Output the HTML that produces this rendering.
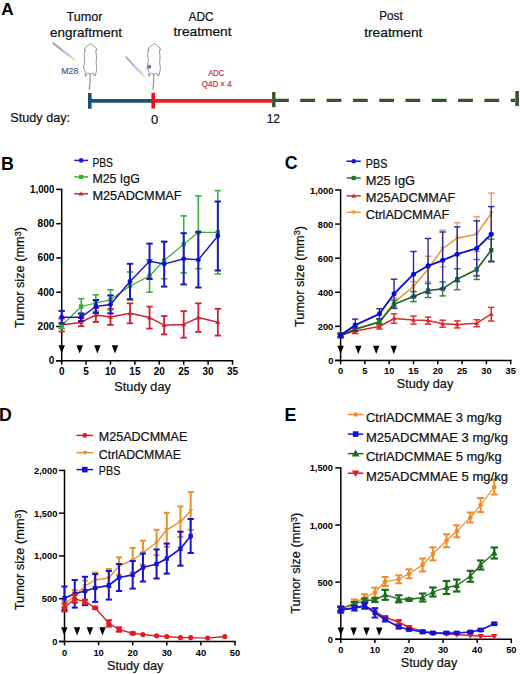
<!DOCTYPE html><html><head><meta charset="utf-8"><style>html,body{margin:0;padding:0;background:#fff;}svg{display:block;}</style></head><body>
<svg width="520" height="674" viewBox="0 0 520 674" font-family='"Liberation Sans", sans-serif'>
<rect width="520" height="674" fill="#fff"/>
<text x="1.3" y="14.8" font-size="17.2" font-weight="bold" text-anchor="start" fill="#000" textLength="12.4" lengthAdjust="spacingAndGlyphs">A</text>
<text x="84.5" y="21.2" font-size="13" text-anchor="middle" fill="#111" textLength="36" lengthAdjust="spacingAndGlyphs" stroke="#111" stroke-width="0.22">Tumor</text>
<text x="86" y="36.5" font-size="13" text-anchor="middle" fill="#111" textLength="72" lengthAdjust="spacingAndGlyphs" stroke="#111" stroke-width="0.22">engraftment</text>
<text x="201" y="20.5" font-size="13" text-anchor="middle" fill="#111" textLength="25" lengthAdjust="spacingAndGlyphs" stroke="#111" stroke-width="0.22">ADC</text>
<text x="202.5" y="36" font-size="13" text-anchor="middle" fill="#111" textLength="58" lengthAdjust="spacingAndGlyphs" stroke="#111" stroke-width="0.22">treatment</text>
<text x="391" y="20.2" font-size="13" text-anchor="middle" fill="#111" textLength="23.5" lengthAdjust="spacingAndGlyphs" stroke="#111" stroke-width="0.22">Post</text>
<text x="393.3" y="36.5" font-size="13" text-anchor="middle" fill="#111" textLength="58.3" lengthAdjust="spacingAndGlyphs" stroke="#111" stroke-width="0.22">treatment</text>
<text x="216.3" y="75.8" font-size="8.4" text-anchor="middle" fill="#c4303f" textLength="16.0" lengthAdjust="spacingAndGlyphs" stroke="#c4303f" stroke-width="0.2">ADC</text>
<text x="216.7" y="87.4" font-size="8.8" text-anchor="middle" fill="#c4303f" textLength="29.8" lengthAdjust="spacingAndGlyphs" stroke="#c4303f" stroke-width="0.2">Q4D × 4</text>
<text x="69.8" y="74.2" font-size="8.6" text-anchor="middle" fill="#4a6890" textLength="17.0" lengthAdjust="spacingAndGlyphs" stroke="#4a6890" stroke-width="0.2">M28</text>
<text x="10.3" y="121.6" font-size="13" text-anchor="start" fill="#111" textLength="59.8" lengthAdjust="spacingAndGlyphs" stroke="#111" stroke-width="0.22">Study day:</text>
<text x="154.5" y="123.5" font-size="13" text-anchor="middle" fill="#111" stroke="#111" stroke-width="0.22">0</text>
<text x="273.3" y="122.5" font-size="13" text-anchor="middle" fill="#111" textLength="13.3" lengthAdjust="spacingAndGlyphs" stroke="#111" stroke-width="0.22">12</text>
<line x1="90.00" y1="100.80" x2="153.00" y2="100.80" stroke="#1f4e79" stroke-width="3.8"/>
<line x1="89.80" y1="93.00" x2="89.80" y2="108.80" stroke="#1f4e79" stroke-width="3.6"/>
<line x1="153.00" y1="100.80" x2="272.00" y2="100.80" stroke="#ee1c25" stroke-width="3.8"/>
<line x1="153.20" y1="92.70" x2="153.20" y2="108.60" stroke="#e8141c" stroke-width="3.6"/>
<line x1="274" y1="100.3" x2="515" y2="100.3" stroke="#375623" stroke-width="3.2" stroke-dasharray="14.8 11.5"/>
<line x1="273.80" y1="92.00" x2="273.80" y2="107.20" stroke="#375623" stroke-width="3.4"/>
<line x1="517.10" y1="91.00" x2="517.10" y2="106.00" stroke="#375623" stroke-width="3.6"/>
<path d="M90.80,43.50 L92.40,44.80 L93.70,46.40 L95.30,47.00 L96.60,48.40 L96.40,50.40 L95.70,51.60 L96.20,54.00 L96.50,58.00 L96.00,62.00 L96.60,66.00 L96.70,69.50 L96.10,72.00 L95.60,74.40 L94.80,76.00 L93.90,74.60 L93.20,73.20 L91.80,73.60 L90.40,74.00 L89.00,73.60 L87.60,73.00 L86.60,74.60 L85.60,76.30 L85.10,74.20 L85.50,72.00 L84.40,70.00 L83.50,67.00 L84.30,64.00 L84.80,61.00 L84.30,57.00 L84.20,54.00 L84.80,51.20 L84.50,49.20 L85.40,47.50 L87.00,46.40 L88.80,45.00Z" fill="#fff" stroke="#8c8c8c" stroke-width="0.9" stroke-linejoin="round"/>
<path d="M90.20,73.9 Q90.40,81 89.30,89.6" fill="none" stroke="#8c8c8c" stroke-width="1.1"/>
<circle cx="84.90" cy="50.5" r="0.9" fill="#9a9a9a"/>
<circle cx="96.20" cy="50.2" r="0.9" fill="#9a9a9a"/>
<circle cx="85.70" cy="75.2" r="0.9" fill="#9a9a9a"/>
<circle cx="94.70" cy="75.2" r="0.9" fill="#9a9a9a"/>
<path d="M154.40,43.50 L156.00,44.80 L157.30,46.40 L158.90,47.00 L160.20,48.40 L160.00,50.40 L159.30,51.60 L159.80,54.00 L160.10,58.00 L159.60,62.00 L160.20,66.00 L160.30,69.50 L159.70,72.00 L159.20,74.40 L158.40,76.00 L157.50,74.60 L156.80,73.20 L155.40,73.60 L154.00,74.00 L152.60,73.60 L151.20,73.00 L150.20,74.60 L149.20,76.30 L148.70,74.20 L149.10,72.00 L148.00,70.00 L147.10,67.00 L147.90,64.00 L148.40,61.00 L147.90,57.00 L147.80,54.00 L148.40,51.20 L148.10,49.20 L149.00,47.50 L150.60,46.40 L152.40,45.00Z" fill="#fff" stroke="#8c8c8c" stroke-width="0.9" stroke-linejoin="round"/>
<path d="M153.80,73.9 Q154.00,81 152.90,89.6" fill="none" stroke="#8c8c8c" stroke-width="1.1"/>
<circle cx="148.50" cy="50.5" r="0.9" fill="#9a9a9a"/>
<circle cx="159.80" cy="50.2" r="0.9" fill="#9a9a9a"/>
<circle cx="149.30" cy="75.2" r="0.9" fill="#9a9a9a"/>
<circle cx="158.30" cy="75.2" r="0.9" fill="#9a9a9a"/>
<circle cx="149.2" cy="66.7" r="2.0" fill="#5a7cbc"/>
<line x1="52.7" y1="42.7" x2="62.8" y2="50.8" stroke="#a0a0a0" stroke-width="1.8"/>
<line x1="62.8" y1="50.8" x2="70.2" y2="56.4" stroke="#b4c8e0" stroke-width="2.5"/>
<line x1="70.2" y1="56.4" x2="74.4" y2="59.6" stroke="#e8d890" stroke-width="2.1"/>
<line x1="75" y1="60.3" x2="79.5" y2="64" stroke="#ece6d4" stroke-width="0.7"/>
<line x1="125.8" y1="56.5" x2="134.2" y2="66.2" stroke="#a4a4a4" stroke-width="1.7"/>
<line x1="134.2" y1="66.2" x2="141.5" y2="73.1" stroke="#d2c2e6" stroke-width="2.4"/>
<line x1="141.5" y1="73.1" x2="143.8" y2="76.5" stroke="#f2de8a" stroke-width="2.1"/>
<line x1="143.8" y1="76.5" x2="152" y2="86" stroke="#f6d8d8" stroke-width="0.7"/>
<text x="0.95" y="169.6" font-size="17.8" font-weight="bold" text-anchor="start" fill="#000">B</text>
<line x1="61.70" y1="188.65" x2="61.70" y2="361.55" stroke="#000" stroke-width="1.5"/>
<line x1="56.20" y1="360.80" x2="61.70" y2="360.80" stroke="#000" stroke-width="1.5"/>
<text x="54.3" y="364.3" font-size="10" font-weight="bold" text-anchor="end" fill="#000">0</text>
<line x1="56.20" y1="326.52" x2="61.70" y2="326.52" stroke="#000" stroke-width="1.5"/>
<text x="54.3" y="330.02" font-size="10" font-weight="bold" text-anchor="end" fill="#000">200</text>
<line x1="56.20" y1="292.24" x2="61.70" y2="292.24" stroke="#000" stroke-width="1.5"/>
<text x="54.3" y="295.74" font-size="10" font-weight="bold" text-anchor="end" fill="#000">400</text>
<line x1="56.20" y1="257.96" x2="61.70" y2="257.96" stroke="#000" stroke-width="1.5"/>
<text x="54.3" y="261.46000000000004" font-size="10" font-weight="bold" text-anchor="end" fill="#000">600</text>
<line x1="56.20" y1="223.68" x2="61.70" y2="223.68" stroke="#000" stroke-width="1.5"/>
<text x="54.3" y="227.18" font-size="10" font-weight="bold" text-anchor="end" fill="#000">800</text>
<line x1="56.20" y1="189.40" x2="61.70" y2="189.40" stroke="#000" stroke-width="1.5"/>
<text x="54.3" y="192.9" font-size="10" font-weight="bold" text-anchor="end" fill="#000" textLength="24.2" lengthAdjust="spacingAndGlyphs">1,000</text>
<line x1="56.20" y1="360.80" x2="233.25" y2="360.80" stroke="#000" stroke-width="1.5"/>
<line x1="61.70" y1="360.80" x2="61.70" y2="364.70" stroke="#000" stroke-width="1.5"/>
<text x="61.7" y="374.7" font-size="10" font-weight="bold" text-anchor="middle" fill="#000">0</text>
<line x1="86.10" y1="360.80" x2="86.10" y2="364.70" stroke="#000" stroke-width="1.5"/>
<text x="86.1" y="374.7" font-size="10" font-weight="bold" text-anchor="middle" fill="#000">5</text>
<line x1="110.50" y1="360.80" x2="110.50" y2="364.70" stroke="#000" stroke-width="1.5"/>
<text x="110.5" y="374.7" font-size="10" font-weight="bold" text-anchor="middle" fill="#000">10</text>
<line x1="134.90" y1="360.80" x2="134.90" y2="364.70" stroke="#000" stroke-width="1.5"/>
<text x="134.9" y="374.7" font-size="10" font-weight="bold" text-anchor="middle" fill="#000">15</text>
<line x1="159.30" y1="360.80" x2="159.30" y2="364.70" stroke="#000" stroke-width="1.5"/>
<text x="159.3" y="374.7" font-size="10" font-weight="bold" text-anchor="middle" fill="#000">20</text>
<line x1="183.70" y1="360.80" x2="183.70" y2="364.70" stroke="#000" stroke-width="1.5"/>
<text x="183.7" y="374.7" font-size="10" font-weight="bold" text-anchor="middle" fill="#000">25</text>
<line x1="208.10" y1="360.80" x2="208.10" y2="364.70" stroke="#000" stroke-width="1.5"/>
<text x="208.10000000000002" y="374.7" font-size="10" font-weight="bold" text-anchor="middle" fill="#000">30</text>
<line x1="232.50" y1="360.80" x2="232.50" y2="364.70" stroke="#000" stroke-width="1.5"/>
<text x="232.5" y="374.7" font-size="10" font-weight="bold" text-anchor="middle" fill="#000">35</text>
<text transform="translate(24.3,277.5) rotate(-90)" x="0" y="0" font-size="12.6" text-anchor="middle" fill="#111" stroke="#111" stroke-width="0.22" textLength="101" lengthAdjust="spacingAndGlyphs">Tumor size (mm<tspan font-size="8.9" dy="-3.4">3</tspan><tspan dy="3.4">)</tspan></text>
<text x="142.6" y="390.8" font-size="12.7" text-anchor="middle" fill="#111" textLength="56.5" lengthAdjust="spacingAndGlyphs" stroke="#111" stroke-width="0.22">Study day</text>
<line x1="61.70" y1="318.50" x2="61.70" y2="331.50" stroke="#cc2236" stroke-width="1.8"/>
<line x1="58.50" y1="318.50" x2="64.90" y2="318.50" stroke="#cc2236" stroke-width="1.8"/>
<line x1="58.50" y1="331.50" x2="64.90" y2="331.50" stroke="#cc2236" stroke-width="1.8"/>
<line x1="81.22" y1="318.20" x2="81.22" y2="326.20" stroke="#cc2236" stroke-width="1.8"/>
<line x1="78.02" y1="318.20" x2="84.42" y2="318.20" stroke="#cc2236" stroke-width="1.8"/>
<line x1="78.02" y1="326.20" x2="84.42" y2="326.20" stroke="#cc2236" stroke-width="1.8"/>
<line x1="95.86" y1="308.00" x2="95.86" y2="322.00" stroke="#cc2236" stroke-width="1.8"/>
<line x1="92.66" y1="308.00" x2="99.06" y2="308.00" stroke="#cc2236" stroke-width="1.8"/>
<line x1="92.66" y1="322.00" x2="99.06" y2="322.00" stroke="#cc2236" stroke-width="1.8"/>
<line x1="110.50" y1="308.90" x2="110.50" y2="324.90" stroke="#cc2236" stroke-width="1.8"/>
<line x1="107.30" y1="308.90" x2="113.70" y2="308.90" stroke="#cc2236" stroke-width="1.8"/>
<line x1="107.30" y1="324.90" x2="113.70" y2="324.90" stroke="#cc2236" stroke-width="1.8"/>
<line x1="130.02" y1="303.30" x2="130.02" y2="323.30" stroke="#cc2236" stroke-width="1.8"/>
<line x1="126.82" y1="303.30" x2="133.22" y2="303.30" stroke="#cc2236" stroke-width="1.8"/>
<line x1="126.82" y1="323.30" x2="133.22" y2="323.30" stroke="#cc2236" stroke-width="1.8"/>
<line x1="149.54" y1="306.60" x2="149.54" y2="328.60" stroke="#cc2236" stroke-width="1.8"/>
<line x1="146.34" y1="306.60" x2="152.74" y2="306.60" stroke="#cc2236" stroke-width="1.8"/>
<line x1="146.34" y1="328.60" x2="152.74" y2="328.60" stroke="#cc2236" stroke-width="1.8"/>
<line x1="164.18" y1="316.00" x2="164.18" y2="334.40" stroke="#cc2236" stroke-width="1.8"/>
<line x1="160.98" y1="316.00" x2="167.38" y2="316.00" stroke="#cc2236" stroke-width="1.8"/>
<line x1="160.98" y1="334.40" x2="167.38" y2="334.40" stroke="#cc2236" stroke-width="1.8"/>
<line x1="183.70" y1="311.10" x2="183.70" y2="337.70" stroke="#cc2236" stroke-width="1.8"/>
<line x1="180.50" y1="311.10" x2="186.90" y2="311.10" stroke="#cc2236" stroke-width="1.8"/>
<line x1="180.50" y1="337.70" x2="186.90" y2="337.70" stroke="#cc2236" stroke-width="1.8"/>
<line x1="198.34" y1="303.30" x2="198.34" y2="331.90" stroke="#cc2236" stroke-width="1.8"/>
<line x1="195.14" y1="303.30" x2="201.54" y2="303.30" stroke="#cc2236" stroke-width="1.8"/>
<line x1="195.14" y1="331.90" x2="201.54" y2="331.90" stroke="#cc2236" stroke-width="1.8"/>
<line x1="217.86" y1="308.80" x2="217.86" y2="335.60" stroke="#cc2236" stroke-width="1.8"/>
<line x1="214.66" y1="308.80" x2="221.06" y2="308.80" stroke="#cc2236" stroke-width="1.8"/>
<line x1="214.66" y1="335.60" x2="221.06" y2="335.60" stroke="#cc2236" stroke-width="1.8"/>
<polyline points="61.70,325.00 81.22,322.20 95.86,315.00 110.50,316.90 130.02,313.30 149.54,317.60 164.18,325.20 183.70,324.40 198.34,317.60 217.86,322.20" fill="none" stroke="#cc2236" stroke-width="1.5" stroke-linejoin="round"/>
<path d="M61.70,322.36 L64.23,326.85 L59.17,326.85Z" fill="#cc2236"/>
<path d="M81.22,319.56 L83.75,324.05 L78.69,324.05Z" fill="#cc2236"/>
<path d="M95.86,312.36 L98.39,316.85 L93.33,316.85Z" fill="#cc2236"/>
<path d="M110.50,314.25 L113.03,318.75 L107.97,318.75Z" fill="#cc2236"/>
<path d="M130.02,310.66 L132.55,315.15 L127.49,315.15Z" fill="#cc2236"/>
<path d="M149.54,314.96 L152.07,319.45 L147.01,319.45Z" fill="#cc2236"/>
<path d="M164.18,322.56 L166.71,327.05 L161.65,327.05Z" fill="#cc2236"/>
<path d="M183.70,321.75 L186.23,326.25 L181.17,326.25Z" fill="#cc2236"/>
<path d="M198.34,314.96 L200.87,319.45 L195.81,319.45Z" fill="#cc2236"/>
<path d="M217.86,319.56 L220.39,324.05 L215.33,324.05Z" fill="#cc2236"/>
<line x1="61.70" y1="322.60" x2="61.70" y2="328.60" stroke="#3cb03c" stroke-width="1.6"/>
<line x1="58.50" y1="322.60" x2="64.90" y2="322.60" stroke="#3cb03c" stroke-width="1.6"/>
<line x1="58.50" y1="328.60" x2="64.90" y2="328.60" stroke="#3cb03c" stroke-width="1.6"/>
<line x1="81.22" y1="298.70" x2="81.22" y2="314.30" stroke="#3cb03c" stroke-width="1.6"/>
<line x1="78.02" y1="298.70" x2="84.42" y2="298.70" stroke="#3cb03c" stroke-width="1.6"/>
<line x1="78.02" y1="314.30" x2="84.42" y2="314.30" stroke="#3cb03c" stroke-width="1.6"/>
<line x1="95.86" y1="294.80" x2="95.86" y2="311.20" stroke="#3cb03c" stroke-width="1.6"/>
<line x1="92.66" y1="294.80" x2="99.06" y2="294.80" stroke="#3cb03c" stroke-width="1.6"/>
<line x1="92.66" y1="311.20" x2="99.06" y2="311.20" stroke="#3cb03c" stroke-width="1.6"/>
<line x1="110.50" y1="289.80" x2="110.50" y2="309.80" stroke="#3cb03c" stroke-width="1.6"/>
<line x1="107.30" y1="289.80" x2="113.70" y2="289.80" stroke="#3cb03c" stroke-width="1.6"/>
<line x1="107.30" y1="309.80" x2="113.70" y2="309.80" stroke="#3cb03c" stroke-width="1.6"/>
<line x1="130.02" y1="272.00" x2="130.02" y2="300.00" stroke="#3cb03c" stroke-width="1.6"/>
<line x1="126.82" y1="272.00" x2="133.22" y2="272.00" stroke="#3cb03c" stroke-width="1.6"/>
<line x1="126.82" y1="300.00" x2="133.22" y2="300.00" stroke="#3cb03c" stroke-width="1.6"/>
<line x1="149.54" y1="259.80" x2="149.54" y2="292.20" stroke="#3cb03c" stroke-width="1.6"/>
<line x1="146.34" y1="259.80" x2="152.74" y2="259.80" stroke="#3cb03c" stroke-width="1.6"/>
<line x1="146.34" y1="292.20" x2="152.74" y2="292.20" stroke="#3cb03c" stroke-width="1.6"/>
<line x1="164.18" y1="241.80" x2="164.18" y2="278.80" stroke="#3cb03c" stroke-width="1.6"/>
<line x1="160.98" y1="241.80" x2="167.38" y2="241.80" stroke="#3cb03c" stroke-width="1.6"/>
<line x1="160.98" y1="278.80" x2="167.38" y2="278.80" stroke="#3cb03c" stroke-width="1.6"/>
<line x1="183.70" y1="215.90" x2="183.70" y2="272.90" stroke="#3cb03c" stroke-width="1.6"/>
<line x1="180.50" y1="215.90" x2="186.90" y2="215.90" stroke="#3cb03c" stroke-width="1.6"/>
<line x1="180.50" y1="272.90" x2="186.90" y2="272.90" stroke="#3cb03c" stroke-width="1.6"/>
<line x1="198.34" y1="195.90" x2="198.34" y2="268.70" stroke="#3cb03c" stroke-width="1.6"/>
<line x1="195.14" y1="195.90" x2="201.54" y2="195.90" stroke="#3cb03c" stroke-width="1.6"/>
<line x1="195.14" y1="268.70" x2="201.54" y2="268.70" stroke="#3cb03c" stroke-width="1.6"/>
<line x1="217.86" y1="190.60" x2="217.86" y2="274.00" stroke="#3cb03c" stroke-width="1.6"/>
<line x1="214.66" y1="190.60" x2="221.06" y2="190.60" stroke="#3cb03c" stroke-width="1.6"/>
<line x1="214.66" y1="274.00" x2="221.06" y2="274.00" stroke="#3cb03c" stroke-width="1.6"/>
<polyline points="61.70,325.60 81.22,306.50 95.86,303.00 110.50,299.80 130.02,286.00 149.54,276.00 164.18,260.30 183.70,244.40 198.34,232.30 217.86,232.30" fill="none" stroke="#38a838" stroke-width="1.2" stroke-linejoin="round"/>
<rect x="59.50" y="323.40" width="4.40" height="4.40" fill="#38a838"/>
<rect x="79.02" y="304.30" width="4.40" height="4.40" fill="#38a838"/>
<rect x="93.66" y="300.80" width="4.40" height="4.40" fill="#38a838"/>
<rect x="108.30" y="297.60" width="4.40" height="4.40" fill="#38a838"/>
<rect x="127.82" y="283.80" width="4.40" height="4.40" fill="#38a838"/>
<rect x="147.34" y="273.80" width="4.40" height="4.40" fill="#38a838"/>
<rect x="161.98" y="258.10" width="4.40" height="4.40" fill="#38a838"/>
<rect x="181.50" y="242.20" width="4.40" height="4.40" fill="#38a838"/>
<rect x="196.14" y="230.10" width="4.40" height="4.40" fill="#38a838"/>
<rect x="215.66" y="230.10" width="4.40" height="4.40" fill="#38a838"/>
<line x1="61.70" y1="310.90" x2="61.70" y2="323.50" stroke="#1e1eb4" stroke-width="2.0"/>
<line x1="58.50" y1="310.90" x2="64.90" y2="310.90" stroke="#1e1eb4" stroke-width="2.0"/>
<line x1="58.50" y1="323.50" x2="64.90" y2="323.50" stroke="#1e1eb4" stroke-width="2.0"/>
<line x1="81.22" y1="313.40" x2="81.22" y2="321.00" stroke="#1e1eb4" stroke-width="2.0"/>
<line x1="78.02" y1="313.40" x2="84.42" y2="313.40" stroke="#1e1eb4" stroke-width="2.0"/>
<line x1="78.02" y1="321.00" x2="84.42" y2="321.00" stroke="#1e1eb4" stroke-width="2.0"/>
<line x1="95.86" y1="300.00" x2="95.86" y2="313.00" stroke="#1e1eb4" stroke-width="2.0"/>
<line x1="92.66" y1="300.00" x2="99.06" y2="300.00" stroke="#1e1eb4" stroke-width="2.0"/>
<line x1="92.66" y1="313.00" x2="99.06" y2="313.00" stroke="#1e1eb4" stroke-width="2.0"/>
<line x1="110.50" y1="295.40" x2="110.50" y2="313.40" stroke="#1e1eb4" stroke-width="2.0"/>
<line x1="107.30" y1="295.40" x2="113.70" y2="295.40" stroke="#1e1eb4" stroke-width="2.0"/>
<line x1="107.30" y1="313.40" x2="113.70" y2="313.40" stroke="#1e1eb4" stroke-width="2.0"/>
<line x1="130.02" y1="263.80" x2="130.02" y2="299.20" stroke="#1e1eb4" stroke-width="2.0"/>
<line x1="126.82" y1="263.80" x2="133.22" y2="263.80" stroke="#1e1eb4" stroke-width="2.0"/>
<line x1="126.82" y1="299.20" x2="133.22" y2="299.20" stroke="#1e1eb4" stroke-width="2.0"/>
<line x1="149.54" y1="243.60" x2="149.54" y2="279.00" stroke="#1e1eb4" stroke-width="2.0"/>
<line x1="146.34" y1="243.60" x2="152.74" y2="243.60" stroke="#1e1eb4" stroke-width="2.0"/>
<line x1="146.34" y1="279.00" x2="152.74" y2="279.00" stroke="#1e1eb4" stroke-width="2.0"/>
<line x1="164.18" y1="241.60" x2="164.18" y2="286.60" stroke="#1e1eb4" stroke-width="2.0"/>
<line x1="160.98" y1="241.60" x2="167.38" y2="241.60" stroke="#1e1eb4" stroke-width="2.0"/>
<line x1="160.98" y1="286.60" x2="167.38" y2="286.60" stroke="#1e1eb4" stroke-width="2.0"/>
<line x1="183.70" y1="233.20" x2="183.70" y2="284.40" stroke="#1e1eb4" stroke-width="2.0"/>
<line x1="180.50" y1="233.20" x2="186.90" y2="233.20" stroke="#1e1eb4" stroke-width="2.0"/>
<line x1="180.50" y1="284.40" x2="186.90" y2="284.40" stroke="#1e1eb4" stroke-width="2.0"/>
<line x1="198.34" y1="232.10" x2="198.34" y2="287.50" stroke="#1e1eb4" stroke-width="2.0"/>
<line x1="195.14" y1="232.10" x2="201.54" y2="232.10" stroke="#1e1eb4" stroke-width="2.0"/>
<line x1="195.14" y1="287.50" x2="201.54" y2="287.50" stroke="#1e1eb4" stroke-width="2.0"/>
<line x1="217.86" y1="201.50" x2="217.86" y2="270.50" stroke="#1e1eb4" stroke-width="2.0"/>
<line x1="214.66" y1="201.50" x2="221.06" y2="201.50" stroke="#1e1eb4" stroke-width="2.0"/>
<line x1="214.66" y1="270.50" x2="221.06" y2="270.50" stroke="#1e1eb4" stroke-width="2.0"/>
<polyline points="61.70,317.20 81.22,317.20 95.86,306.50 110.50,304.40 130.02,281.50 149.54,261.30 164.18,264.10 183.70,258.80 198.34,259.80 217.86,236.00" fill="none" stroke="#1e1eb4" stroke-width="1.5" stroke-linejoin="round"/>
<circle cx="61.70" cy="317.20" r="2.40" fill="#0c0cd8"/>
<circle cx="81.22" cy="317.20" r="2.40" fill="#0c0cd8"/>
<circle cx="95.86" cy="306.50" r="2.40" fill="#0c0cd8"/>
<circle cx="110.50" cy="304.40" r="2.40" fill="#0c0cd8"/>
<circle cx="130.02" cy="281.50" r="2.40" fill="#0c0cd8"/>
<circle cx="149.54" cy="261.30" r="2.40" fill="#0c0cd8"/>
<circle cx="164.18" cy="264.10" r="2.40" fill="#0c0cd8"/>
<circle cx="183.70" cy="258.80" r="2.40" fill="#0c0cd8"/>
<circle cx="198.34" cy="259.80" r="2.40" fill="#0c0cd8"/>
<circle cx="217.86" cy="236.00" r="2.40" fill="#0c0cd8"/>
<path d="M58.50,345.30 L64.90,345.30 L61.70,353.60Z" fill="#000"/>
<path d="M76.50,345.30 L82.90,345.30 L79.70,353.60Z" fill="#000"/>
<path d="M94.20,345.30 L100.60,345.30 L97.40,353.60Z" fill="#000"/>
<path d="M111.80,345.30 L118.20,345.30 L115.00,353.60Z" fill="#000"/>
<line x1="74.30" y1="160.40" x2="88.00" y2="160.40" stroke="#1a1ad0" stroke-width="1.5"/>
<circle cx="81.15" cy="160.40" r="2.30" fill="#1a1ad0"/>
<text x="92.4" y="166.70000000000002" font-size="12.6" text-anchor="start" fill="#111" textLength="20.6" lengthAdjust="spacingAndGlyphs" stroke="#111" stroke-width="0.22">PBS</text>
<line x1="74.30" y1="176.90" x2="88.00" y2="176.90" stroke="#33b233" stroke-width="1.5"/>
<rect x="79.05" y="174.80" width="4.20" height="4.20" fill="#33b233"/>
<text x="92.4" y="183.20000000000002" font-size="12.6" text-anchor="start" fill="#111" textLength="47.4" lengthAdjust="spacingAndGlyphs" stroke="#111" stroke-width="0.22">M25 IgG</text>
<line x1="74.30" y1="193.80" x2="88.00" y2="193.80" stroke="#d42a2a" stroke-width="1.5"/>
<path d="M81.15,191.27 L83.57,195.57 L78.73,195.57Z" fill="#d42a2a"/>
<text x="92.4" y="200.10000000000002" font-size="12.6" text-anchor="start" fill="#111" textLength="89.2" lengthAdjust="spacingAndGlyphs" stroke="#111" stroke-width="0.22">M25ADCMMAF</text>
<text x="284.7" y="169.4" font-size="17.8" font-weight="bold" text-anchor="start" fill="#000">C</text>
<line x1="340.60" y1="189.25" x2="340.60" y2="361.15" stroke="#000" stroke-width="1.5"/>
<line x1="335.10" y1="360.40" x2="340.60" y2="360.40" stroke="#000" stroke-width="1.5"/>
<text x="333.3" y="363.9" font-size="9.3" font-weight="bold" text-anchor="end" fill="#000">0</text>
<line x1="335.10" y1="326.32" x2="340.60" y2="326.32" stroke="#000" stroke-width="1.5"/>
<text x="333.3" y="329.82" font-size="9.3" font-weight="bold" text-anchor="end" fill="#000">200</text>
<line x1="335.10" y1="292.24" x2="340.60" y2="292.24" stroke="#000" stroke-width="1.5"/>
<text x="333.3" y="295.74" font-size="9.3" font-weight="bold" text-anchor="end" fill="#000">400</text>
<line x1="335.10" y1="258.16" x2="340.60" y2="258.16" stroke="#000" stroke-width="1.5"/>
<text x="333.3" y="261.65999999999997" font-size="9.3" font-weight="bold" text-anchor="end" fill="#000">600</text>
<line x1="335.10" y1="224.08" x2="340.60" y2="224.08" stroke="#000" stroke-width="1.5"/>
<text x="333.3" y="227.57999999999998" font-size="9.3" font-weight="bold" text-anchor="end" fill="#000">800</text>
<line x1="335.10" y1="190.00" x2="340.60" y2="190.00" stroke="#000" stroke-width="1.5"/>
<text x="333.3" y="193.49999999999997" font-size="9.3" font-weight="bold" text-anchor="end" fill="#000">1,000</text>
<line x1="335.10" y1="360.40" x2="511.45" y2="360.40" stroke="#000" stroke-width="1.5"/>
<line x1="340.60" y1="360.40" x2="340.60" y2="364.30" stroke="#000" stroke-width="1.5"/>
<text x="340.6" y="373.6" font-size="9.3" font-weight="bold" text-anchor="middle" fill="#000">0</text>
<line x1="364.90" y1="360.40" x2="364.90" y2="364.30" stroke="#000" stroke-width="1.5"/>
<text x="364.90000000000003" y="373.6" font-size="9.3" font-weight="bold" text-anchor="middle" fill="#000">5</text>
<line x1="389.20" y1="360.40" x2="389.20" y2="364.30" stroke="#000" stroke-width="1.5"/>
<text x="389.20000000000005" y="373.6" font-size="9.3" font-weight="bold" text-anchor="middle" fill="#000">10</text>
<line x1="413.50" y1="360.40" x2="413.50" y2="364.30" stroke="#000" stroke-width="1.5"/>
<text x="413.5" y="373.6" font-size="9.3" font-weight="bold" text-anchor="middle" fill="#000">15</text>
<line x1="437.80" y1="360.40" x2="437.80" y2="364.30" stroke="#000" stroke-width="1.5"/>
<text x="437.8" y="373.6" font-size="9.3" font-weight="bold" text-anchor="middle" fill="#000">20</text>
<line x1="462.10" y1="360.40" x2="462.10" y2="364.30" stroke="#000" stroke-width="1.5"/>
<text x="462.1" y="373.6" font-size="9.3" font-weight="bold" text-anchor="middle" fill="#000">25</text>
<line x1="486.40" y1="360.40" x2="486.40" y2="364.30" stroke="#000" stroke-width="1.5"/>
<text x="486.40000000000003" y="373.6" font-size="9.3" font-weight="bold" text-anchor="middle" fill="#000">30</text>
<line x1="510.70" y1="360.40" x2="510.70" y2="364.30" stroke="#000" stroke-width="1.5"/>
<text x="510.70000000000005" y="373.6" font-size="9.3" font-weight="bold" text-anchor="middle" fill="#000">35</text>
<text transform="translate(303.6,276.5) rotate(-90)" x="0" y="0" font-size="12.6" text-anchor="middle" fill="#111" stroke="#111" stroke-width="0.22" textLength="101" lengthAdjust="spacingAndGlyphs">Tumor size (mm<tspan font-size="8.9" dy="-3.4">3</tspan><tspan dy="3.4">)</tspan></text>
<text x="425" y="387.7" font-size="12.7" text-anchor="middle" fill="#111" textLength="56.5" lengthAdjust="spacingAndGlyphs" stroke="#111" stroke-width="0.22">Study day</text>
<line x1="340.60" y1="334.40" x2="340.60" y2="336.40" stroke="#d8a060" stroke-width="1.4"/>
<line x1="337.40" y1="334.40" x2="343.80" y2="334.40" stroke="#d8a060" stroke-width="1.4"/>
<line x1="337.40" y1="336.40" x2="343.80" y2="336.40" stroke="#d8a060" stroke-width="1.4"/>
<line x1="355.18" y1="327.00" x2="355.18" y2="331.00" stroke="#d8a060" stroke-width="1.4"/>
<line x1="351.98" y1="327.00" x2="358.38" y2="327.00" stroke="#d8a060" stroke-width="1.4"/>
<line x1="351.98" y1="331.00" x2="358.38" y2="331.00" stroke="#d8a060" stroke-width="1.4"/>
<line x1="379.48" y1="319.30" x2="379.48" y2="324.30" stroke="#d8a060" stroke-width="1.4"/>
<line x1="376.28" y1="319.30" x2="382.68" y2="319.30" stroke="#d8a060" stroke-width="1.4"/>
<line x1="376.28" y1="324.30" x2="382.68" y2="324.30" stroke="#d8a060" stroke-width="1.4"/>
<line x1="394.06" y1="298.30" x2="394.06" y2="306.30" stroke="#d8a060" stroke-width="1.4"/>
<line x1="390.86" y1="298.30" x2="397.26" y2="298.30" stroke="#d8a060" stroke-width="1.4"/>
<line x1="390.86" y1="306.30" x2="397.26" y2="306.30" stroke="#d8a060" stroke-width="1.4"/>
<line x1="413.50" y1="281.50" x2="413.50" y2="291.50" stroke="#d8a060" stroke-width="1.4"/>
<line x1="410.30" y1="281.50" x2="416.70" y2="281.50" stroke="#d8a060" stroke-width="1.4"/>
<line x1="410.30" y1="291.50" x2="416.70" y2="291.50" stroke="#d8a060" stroke-width="1.4"/>
<line x1="428.08" y1="256.20" x2="428.08" y2="281.60" stroke="#d8a060" stroke-width="1.4"/>
<line x1="424.88" y1="256.20" x2="431.28" y2="256.20" stroke="#d8a060" stroke-width="1.4"/>
<line x1="424.88" y1="281.60" x2="431.28" y2="281.60" stroke="#d8a060" stroke-width="1.4"/>
<line x1="442.66" y1="230.10" x2="442.66" y2="266.90" stroke="#d8a060" stroke-width="1.4"/>
<line x1="439.46" y1="230.10" x2="445.86" y2="230.10" stroke="#d8a060" stroke-width="1.4"/>
<line x1="439.46" y1="266.90" x2="445.86" y2="266.90" stroke="#d8a060" stroke-width="1.4"/>
<line x1="457.24" y1="222.80" x2="457.24" y2="253.60" stroke="#d8a060" stroke-width="1.4"/>
<line x1="454.04" y1="222.80" x2="460.44" y2="222.80" stroke="#d8a060" stroke-width="1.4"/>
<line x1="454.04" y1="253.60" x2="460.44" y2="253.60" stroke="#d8a060" stroke-width="1.4"/>
<line x1="476.68" y1="216.80" x2="476.68" y2="251.60" stroke="#d8a060" stroke-width="1.4"/>
<line x1="473.48" y1="216.80" x2="479.88" y2="216.80" stroke="#d8a060" stroke-width="1.4"/>
<line x1="473.48" y1="251.60" x2="479.88" y2="251.60" stroke="#d8a060" stroke-width="1.4"/>
<line x1="491.26" y1="193.10" x2="491.26" y2="233.50" stroke="#d8a060" stroke-width="1.4"/>
<line x1="488.06" y1="193.10" x2="494.46" y2="193.10" stroke="#d8a060" stroke-width="1.4"/>
<line x1="488.06" y1="233.50" x2="494.46" y2="233.50" stroke="#d8a060" stroke-width="1.4"/>
<polyline points="340.60,335.40 355.18,329.00 379.48,321.80 394.06,302.30 413.50,286.50 428.08,268.90 442.66,248.50 457.24,238.20 476.68,234.20 491.26,213.30" fill="none" stroke="#e0983c" stroke-width="1.5" stroke-linejoin="round"/>
<path d="M340.60,337.93 L343.02,333.63 L338.18,333.63Z" fill="#e0983c"/>
<path d="M355.18,331.53 L357.60,327.23 L352.76,327.23Z" fill="#e0983c"/>
<path d="M379.48,324.33 L381.90,320.03 L377.06,320.03Z" fill="#e0983c"/>
<path d="M394.06,304.83 L396.48,300.53 L391.64,300.53Z" fill="#e0983c"/>
<path d="M413.50,289.03 L415.92,284.73 L411.08,284.73Z" fill="#e0983c"/>
<path d="M428.08,271.43 L430.50,267.13 L425.66,267.13Z" fill="#e0983c"/>
<path d="M442.66,251.03 L445.08,246.73 L440.24,246.73Z" fill="#e0983c"/>
<path d="M457.24,240.73 L459.66,236.43 L454.82,236.43Z" fill="#e0983c"/>
<path d="M476.68,236.73 L479.10,232.43 L474.26,232.43Z" fill="#e0983c"/>
<path d="M491.26,215.83 L493.68,211.53 L488.84,211.53Z" fill="#e0983c"/>
<line x1="340.60" y1="333.90" x2="340.60" y2="336.90" stroke="#dc2828" stroke-width="1.45"/>
<line x1="337.40" y1="333.90" x2="343.80" y2="333.90" stroke="#dc2828" stroke-width="1.45"/>
<line x1="337.40" y1="336.90" x2="343.80" y2="336.90" stroke="#dc2828" stroke-width="1.45"/>
<line x1="355.18" y1="328.60" x2="355.18" y2="333.60" stroke="#dc2828" stroke-width="1.45"/>
<line x1="351.98" y1="328.60" x2="358.38" y2="328.60" stroke="#dc2828" stroke-width="1.45"/>
<line x1="351.98" y1="333.60" x2="358.38" y2="333.60" stroke="#dc2828" stroke-width="1.45"/>
<line x1="379.48" y1="324.00" x2="379.48" y2="329.00" stroke="#dc2828" stroke-width="1.45"/>
<line x1="376.28" y1="324.00" x2="382.68" y2="324.00" stroke="#dc2828" stroke-width="1.45"/>
<line x1="376.28" y1="329.00" x2="382.68" y2="329.00" stroke="#dc2828" stroke-width="1.45"/>
<line x1="394.06" y1="313.80" x2="394.06" y2="323.20" stroke="#dc2828" stroke-width="1.45"/>
<line x1="390.86" y1="313.80" x2="397.26" y2="313.80" stroke="#dc2828" stroke-width="1.45"/>
<line x1="390.86" y1="323.20" x2="397.26" y2="323.20" stroke="#dc2828" stroke-width="1.45"/>
<line x1="413.50" y1="316.10" x2="413.50" y2="324.10" stroke="#dc2828" stroke-width="1.45"/>
<line x1="410.30" y1="316.10" x2="416.70" y2="316.10" stroke="#dc2828" stroke-width="1.45"/>
<line x1="410.30" y1="324.10" x2="416.70" y2="324.10" stroke="#dc2828" stroke-width="1.45"/>
<line x1="428.08" y1="317.10" x2="428.08" y2="324.10" stroke="#dc2828" stroke-width="1.45"/>
<line x1="424.88" y1="317.10" x2="431.28" y2="317.10" stroke="#dc2828" stroke-width="1.45"/>
<line x1="424.88" y1="324.10" x2="431.28" y2="324.10" stroke="#dc2828" stroke-width="1.45"/>
<line x1="442.66" y1="320.20" x2="442.66" y2="327.20" stroke="#dc2828" stroke-width="1.45"/>
<line x1="439.46" y1="320.20" x2="445.86" y2="320.20" stroke="#dc2828" stroke-width="1.45"/>
<line x1="439.46" y1="327.20" x2="445.86" y2="327.20" stroke="#dc2828" stroke-width="1.45"/>
<line x1="457.24" y1="320.90" x2="457.24" y2="327.90" stroke="#dc2828" stroke-width="1.45"/>
<line x1="454.04" y1="320.90" x2="460.44" y2="320.90" stroke="#dc2828" stroke-width="1.45"/>
<line x1="454.04" y1="327.90" x2="460.44" y2="327.90" stroke="#dc2828" stroke-width="1.45"/>
<line x1="476.68" y1="319.70" x2="476.68" y2="326.70" stroke="#dc2828" stroke-width="1.45"/>
<line x1="473.48" y1="319.70" x2="479.88" y2="319.70" stroke="#dc2828" stroke-width="1.45"/>
<line x1="473.48" y1="326.70" x2="479.88" y2="326.70" stroke="#dc2828" stroke-width="1.45"/>
<line x1="491.26" y1="307.40" x2="491.26" y2="321.00" stroke="#dc2828" stroke-width="1.45"/>
<line x1="488.06" y1="307.40" x2="494.46" y2="307.40" stroke="#dc2828" stroke-width="1.45"/>
<line x1="488.06" y1="321.00" x2="494.46" y2="321.00" stroke="#dc2828" stroke-width="1.45"/>
<polyline points="340.60,335.40 355.18,331.10 379.48,326.50 394.06,318.50 413.50,320.10 428.08,320.60 442.66,323.70 457.24,324.40 476.68,323.20 491.26,314.20" fill="none" stroke="#dc2828" stroke-width="1.5" stroke-linejoin="round"/>
<path d="M340.60,332.87 L343.02,337.17 L338.18,337.17Z" fill="#dc2828"/>
<path d="M355.18,328.57 L357.60,332.87 L352.76,332.87Z" fill="#dc2828"/>
<path d="M379.48,323.97 L381.90,328.27 L377.06,328.27Z" fill="#dc2828"/>
<path d="M394.06,315.97 L396.48,320.27 L391.64,320.27Z" fill="#dc2828"/>
<path d="M413.50,317.57 L415.92,321.87 L411.08,321.87Z" fill="#dc2828"/>
<path d="M428.08,318.07 L430.50,322.37 L425.66,322.37Z" fill="#dc2828"/>
<path d="M442.66,321.17 L445.08,325.47 L440.24,325.47Z" fill="#dc2828"/>
<path d="M457.24,321.87 L459.66,326.17 L454.82,326.17Z" fill="#dc2828"/>
<path d="M476.68,320.67 L479.10,324.97 L474.26,324.97Z" fill="#dc2828"/>
<path d="M491.26,311.67 L493.68,315.97 L488.84,315.97Z" fill="#dc2828"/>
<line x1="340.60" y1="334.40" x2="340.60" y2="336.40" stroke="#3a7a3a" stroke-width="1.4"/>
<line x1="337.40" y1="334.40" x2="343.80" y2="334.40" stroke="#3a7a3a" stroke-width="1.4"/>
<line x1="337.40" y1="336.40" x2="343.80" y2="336.40" stroke="#3a7a3a" stroke-width="1.4"/>
<line x1="355.18" y1="327.20" x2="355.18" y2="331.20" stroke="#3a7a3a" stroke-width="1.4"/>
<line x1="351.98" y1="327.20" x2="358.38" y2="327.20" stroke="#3a7a3a" stroke-width="1.4"/>
<line x1="351.98" y1="331.20" x2="358.38" y2="331.20" stroke="#3a7a3a" stroke-width="1.4"/>
<line x1="379.48" y1="319.00" x2="379.48" y2="325.00" stroke="#3a7a3a" stroke-width="1.4"/>
<line x1="376.28" y1="319.00" x2="382.68" y2="319.00" stroke="#3a7a3a" stroke-width="1.4"/>
<line x1="376.28" y1="325.00" x2="382.68" y2="325.00" stroke="#3a7a3a" stroke-width="1.4"/>
<line x1="394.06" y1="300.30" x2="394.06" y2="308.30" stroke="#3a7a3a" stroke-width="1.4"/>
<line x1="390.86" y1="300.30" x2="397.26" y2="300.30" stroke="#3a7a3a" stroke-width="1.4"/>
<line x1="390.86" y1="308.30" x2="397.26" y2="308.30" stroke="#3a7a3a" stroke-width="1.4"/>
<line x1="413.50" y1="291.60" x2="413.50" y2="301.60" stroke="#3a7a3a" stroke-width="1.4"/>
<line x1="410.30" y1="291.60" x2="416.70" y2="291.60" stroke="#3a7a3a" stroke-width="1.4"/>
<line x1="410.30" y1="301.60" x2="416.70" y2="301.60" stroke="#3a7a3a" stroke-width="1.4"/>
<line x1="428.08" y1="283.50" x2="428.08" y2="297.50" stroke="#3a7a3a" stroke-width="1.4"/>
<line x1="424.88" y1="283.50" x2="431.28" y2="283.50" stroke="#3a7a3a" stroke-width="1.4"/>
<line x1="424.88" y1="297.50" x2="431.28" y2="297.50" stroke="#3a7a3a" stroke-width="1.4"/>
<line x1="442.66" y1="281.90" x2="442.66" y2="295.90" stroke="#3a7a3a" stroke-width="1.4"/>
<line x1="439.46" y1="281.90" x2="445.86" y2="281.90" stroke="#3a7a3a" stroke-width="1.4"/>
<line x1="439.46" y1="295.90" x2="445.86" y2="295.90" stroke="#3a7a3a" stroke-width="1.4"/>
<line x1="457.24" y1="268.70" x2="457.24" y2="289.70" stroke="#3a7a3a" stroke-width="1.4"/>
<line x1="454.04" y1="268.70" x2="460.44" y2="268.70" stroke="#3a7a3a" stroke-width="1.4"/>
<line x1="454.04" y1="289.70" x2="460.44" y2="289.70" stroke="#3a7a3a" stroke-width="1.4"/>
<line x1="476.68" y1="259.50" x2="476.68" y2="279.50" stroke="#3a7a3a" stroke-width="1.4"/>
<line x1="473.48" y1="259.50" x2="479.88" y2="259.50" stroke="#3a7a3a" stroke-width="1.4"/>
<line x1="473.48" y1="279.50" x2="479.88" y2="279.50" stroke="#3a7a3a" stroke-width="1.4"/>
<line x1="491.26" y1="239.10" x2="491.26" y2="261.10" stroke="#3a7a3a" stroke-width="1.4"/>
<line x1="488.06" y1="239.10" x2="494.46" y2="239.10" stroke="#3a7a3a" stroke-width="1.4"/>
<line x1="488.06" y1="261.10" x2="494.46" y2="261.10" stroke="#3a7a3a" stroke-width="1.4"/>
<polyline points="340.60,335.40 355.18,329.20 379.48,322.00 394.06,304.30 413.50,296.60 428.08,290.50 442.66,288.90 457.24,279.20 476.68,269.50 491.26,250.10" fill="none" stroke="#1a661a" stroke-width="1.6" stroke-linejoin="round"/>
<rect x="338.40" y="333.20" width="4.40" height="4.40" fill="#1a7a1a"/>
<rect x="352.98" y="327.00" width="4.40" height="4.40" fill="#1a7a1a"/>
<rect x="377.28" y="319.80" width="4.40" height="4.40" fill="#1a7a1a"/>
<rect x="391.86" y="302.10" width="4.40" height="4.40" fill="#1a7a1a"/>
<rect x="411.30" y="294.40" width="4.40" height="4.40" fill="#1a7a1a"/>
<rect x="425.88" y="288.30" width="4.40" height="4.40" fill="#1a7a1a"/>
<rect x="440.46" y="286.70" width="4.40" height="4.40" fill="#1a7a1a"/>
<rect x="455.04" y="277.00" width="4.40" height="4.40" fill="#1a7a1a"/>
<rect x="474.48" y="267.30" width="4.40" height="4.40" fill="#1a7a1a"/>
<rect x="489.06" y="247.90" width="4.40" height="4.40" fill="#1a7a1a"/>
<line x1="340.60" y1="332.90" x2="340.60" y2="337.90" stroke="#2c2896" stroke-width="1.4"/>
<line x1="337.40" y1="332.90" x2="343.80" y2="332.90" stroke="#2c2896" stroke-width="1.4"/>
<line x1="337.40" y1="337.90" x2="343.80" y2="337.90" stroke="#2c2896" stroke-width="1.4"/>
<line x1="355.18" y1="319.10" x2="355.18" y2="331.10" stroke="#2c2896" stroke-width="1.4"/>
<line x1="351.98" y1="319.10" x2="358.38" y2="319.10" stroke="#2c2896" stroke-width="1.4"/>
<line x1="351.98" y1="331.10" x2="358.38" y2="331.10" stroke="#2c2896" stroke-width="1.4"/>
<line x1="379.48" y1="308.80" x2="379.48" y2="318.80" stroke="#2c2896" stroke-width="1.4"/>
<line x1="376.28" y1="308.80" x2="382.68" y2="308.80" stroke="#2c2896" stroke-width="1.4"/>
<line x1="376.28" y1="318.80" x2="382.68" y2="318.80" stroke="#2c2896" stroke-width="1.4"/>
<line x1="394.06" y1="279.20" x2="394.06" y2="308.40" stroke="#2c2896" stroke-width="1.4"/>
<line x1="390.86" y1="279.20" x2="397.26" y2="279.20" stroke="#2c2896" stroke-width="1.4"/>
<line x1="390.86" y1="308.40" x2="397.26" y2="308.40" stroke="#2c2896" stroke-width="1.4"/>
<line x1="413.50" y1="251.50" x2="413.50" y2="296.90" stroke="#2c2896" stroke-width="1.4"/>
<line x1="410.30" y1="251.50" x2="416.70" y2="251.50" stroke="#2c2896" stroke-width="1.4"/>
<line x1="410.30" y1="296.90" x2="416.70" y2="296.90" stroke="#2c2896" stroke-width="1.4"/>
<line x1="428.08" y1="238.50" x2="428.08" y2="293.10" stroke="#2c2896" stroke-width="1.4"/>
<line x1="424.88" y1="238.50" x2="431.28" y2="238.50" stroke="#2c2896" stroke-width="1.4"/>
<line x1="424.88" y1="293.10" x2="431.28" y2="293.10" stroke="#2c2896" stroke-width="1.4"/>
<line x1="442.66" y1="232.00" x2="442.66" y2="288.60" stroke="#2c2896" stroke-width="1.4"/>
<line x1="439.46" y1="232.00" x2="445.86" y2="232.00" stroke="#2c2896" stroke-width="1.4"/>
<line x1="439.46" y1="288.60" x2="445.86" y2="288.60" stroke="#2c2896" stroke-width="1.4"/>
<line x1="457.24" y1="226.90" x2="457.24" y2="281.50" stroke="#2c2896" stroke-width="1.4"/>
<line x1="454.04" y1="226.90" x2="460.44" y2="226.90" stroke="#2c2896" stroke-width="1.4"/>
<line x1="454.04" y1="281.50" x2="460.44" y2="281.50" stroke="#2c2896" stroke-width="1.4"/>
<line x1="476.68" y1="220.90" x2="476.68" y2="275.90" stroke="#2c2896" stroke-width="1.4"/>
<line x1="473.48" y1="220.90" x2="479.88" y2="220.90" stroke="#2c2896" stroke-width="1.4"/>
<line x1="473.48" y1="275.90" x2="479.88" y2="275.90" stroke="#2c2896" stroke-width="1.4"/>
<line x1="491.26" y1="206.60" x2="491.26" y2="261.80" stroke="#2c2896" stroke-width="1.4"/>
<line x1="488.06" y1="206.60" x2="494.46" y2="206.60" stroke="#2c2896" stroke-width="1.4"/>
<line x1="488.06" y1="261.80" x2="494.46" y2="261.80" stroke="#2c2896" stroke-width="1.4"/>
<polyline points="340.60,335.40 355.18,325.10 379.48,313.80 394.06,293.80 413.50,274.20 428.08,265.80 442.66,260.30 457.24,254.20 476.68,248.40 491.26,234.20" fill="none" stroke="#1010d0" stroke-width="1.9" stroke-linejoin="round"/>
<circle cx="340.60" cy="335.40" r="2.50" fill="#0808e0"/>
<circle cx="355.18" cy="325.10" r="2.50" fill="#0808e0"/>
<circle cx="379.48" cy="313.80" r="2.50" fill="#0808e0"/>
<circle cx="394.06" cy="293.80" r="2.50" fill="#0808e0"/>
<circle cx="413.50" cy="274.20" r="2.50" fill="#0808e0"/>
<circle cx="428.08" cy="265.80" r="2.50" fill="#0808e0"/>
<circle cx="442.66" cy="260.30" r="2.50" fill="#0808e0"/>
<circle cx="457.24" cy="254.20" r="2.50" fill="#0808e0"/>
<circle cx="476.68" cy="248.40" r="2.50" fill="#0808e0"/>
<circle cx="491.26" cy="234.20" r="2.50" fill="#0808e0"/>
<path d="M337.40,345.80 L343.80,345.80 L340.60,354.00Z" fill="#000"/>
<path d="M355.10,345.80 L361.50,345.80 L358.30,354.00Z" fill="#000"/>
<path d="M373.00,345.80 L379.40,345.80 L376.20,354.00Z" fill="#000"/>
<path d="M390.60,345.80 L397.00,345.80 L393.80,354.00Z" fill="#000"/>
<line x1="346.60" y1="161.20" x2="360.80" y2="161.20" stroke="#1414d2" stroke-width="1.5"/>
<circle cx="353.70" cy="161.20" r="2.30" fill="#1414d2"/>
<text x="365.8" y="167.7" font-size="12.6" text-anchor="start" fill="#111" textLength="21.5" lengthAdjust="spacingAndGlyphs" stroke="#111" stroke-width="0.22">PBS</text>
<line x1="346.60" y1="178.00" x2="360.80" y2="178.00" stroke="#1f7a1f" stroke-width="1.5"/>
<rect x="351.60" y="175.90" width="4.20" height="4.20" fill="#1f7a1f"/>
<text x="365.8" y="184.5" font-size="12.6" text-anchor="start" fill="#111" textLength="49.2" lengthAdjust="spacingAndGlyphs" stroke="#111" stroke-width="0.22">M25 IgG</text>
<line x1="346.60" y1="195.90" x2="360.80" y2="195.90" stroke="#dc2828" stroke-width="1.5"/>
<path d="M353.70,193.37 L356.12,197.67 L351.28,197.67Z" fill="#dc2828"/>
<text x="365.8" y="202.4" font-size="12.6" text-anchor="start" fill="#111" textLength="89.6" lengthAdjust="spacingAndGlyphs" stroke="#111" stroke-width="0.22">M25ADCMMAF</text>
<line x1="346.60" y1="212.30" x2="360.80" y2="212.30" stroke="#ec9a3c" stroke-width="1.5"/>
<path d="M353.70,214.83 L356.12,210.53 L351.28,210.53Z" fill="#ec9a3c"/>
<text x="365.8" y="218.8" font-size="12.6" text-anchor="start" fill="#111" textLength="83.4" lengthAdjust="spacingAndGlyphs" stroke="#111" stroke-width="0.22">CtrlADCMMAF</text>
<text x="-1.1" y="420.5" font-size="17.8" font-weight="bold" text-anchor="start" fill="#000">D</text>
<line x1="64.50" y1="469.65" x2="64.50" y2="642.25" stroke="#000" stroke-width="1.5"/>
<line x1="59.00" y1="641.50" x2="64.50" y2="641.50" stroke="#000" stroke-width="1.5"/>
<text x="57.3" y="645.0" font-size="9.3" font-weight="bold" text-anchor="end" fill="#000">0</text>
<line x1="59.00" y1="598.73" x2="64.50" y2="598.73" stroke="#000" stroke-width="1.5"/>
<text x="57.3" y="602.225" font-size="9.3" font-weight="bold" text-anchor="end" fill="#000">500</text>
<line x1="59.00" y1="555.95" x2="64.50" y2="555.95" stroke="#000" stroke-width="1.5"/>
<text x="57.3" y="559.45" font-size="9.3" font-weight="bold" text-anchor="end" fill="#000">1,000</text>
<line x1="59.00" y1="513.17" x2="64.50" y2="513.17" stroke="#000" stroke-width="1.5"/>
<text x="57.3" y="516.675" font-size="9.3" font-weight="bold" text-anchor="end" fill="#000">1,500</text>
<line x1="59.00" y1="470.40" x2="64.50" y2="470.40" stroke="#000" stroke-width="1.5"/>
<text x="57.3" y="473.9" font-size="9.3" font-weight="bold" text-anchor="end" fill="#000">2,000</text>
<line x1="59.00" y1="641.50" x2="235.75" y2="641.50" stroke="#000" stroke-width="1.5"/>
<line x1="64.50" y1="641.50" x2="64.50" y2="645.40" stroke="#000" stroke-width="1.5"/>
<text x="64.5" y="655.7" font-size="9.3" font-weight="bold" text-anchor="middle" fill="#000">0</text>
<line x1="98.60" y1="641.50" x2="98.60" y2="645.40" stroke="#000" stroke-width="1.5"/>
<text x="98.6" y="655.7" font-size="9.3" font-weight="bold" text-anchor="middle" fill="#000">10</text>
<line x1="132.70" y1="641.50" x2="132.70" y2="645.40" stroke="#000" stroke-width="1.5"/>
<text x="132.7" y="655.7" font-size="9.3" font-weight="bold" text-anchor="middle" fill="#000">20</text>
<line x1="166.80" y1="641.50" x2="166.80" y2="645.40" stroke="#000" stroke-width="1.5"/>
<text x="166.8" y="655.7" font-size="9.3" font-weight="bold" text-anchor="middle" fill="#000">30</text>
<line x1="200.90" y1="641.50" x2="200.90" y2="645.40" stroke="#000" stroke-width="1.5"/>
<text x="200.9" y="655.7" font-size="9.3" font-weight="bold" text-anchor="middle" fill="#000">40</text>
<line x1="235.00" y1="641.50" x2="235.00" y2="645.40" stroke="#000" stroke-width="1.5"/>
<text x="235.0" y="655.7" font-size="9.3" font-weight="bold" text-anchor="middle" fill="#000">50</text>
<text transform="translate(24,559.7) rotate(-90)" x="0" y="0" font-size="12.6" text-anchor="middle" fill="#111" stroke="#111" stroke-width="0.22" textLength="101" lengthAdjust="spacingAndGlyphs">Tumor size (mm<tspan font-size="8.9" dy="-3.4">3</tspan><tspan dy="3.4">)</tspan></text>
<text x="135.2" y="670.4" font-size="12.7" text-anchor="middle" fill="#111" textLength="56.5" lengthAdjust="spacingAndGlyphs" stroke="#111" stroke-width="0.22">Study day</text>
<line x1="64.50" y1="601.20" x2="64.50" y2="607.20" stroke="#e8922e" stroke-width="2.0"/>
<line x1="61.50" y1="601.20" x2="67.50" y2="601.20" stroke="#e8922e" stroke-width="2.0"/>
<line x1="61.50" y1="607.20" x2="67.50" y2="607.20" stroke="#e8922e" stroke-width="2.0"/>
<line x1="74.73" y1="590.00" x2="74.73" y2="601.00" stroke="#e8922e" stroke-width="2.0"/>
<line x1="71.73" y1="590.00" x2="77.73" y2="590.00" stroke="#e8922e" stroke-width="2.0"/>
<line x1="71.73" y1="601.00" x2="77.73" y2="601.00" stroke="#e8922e" stroke-width="2.0"/>
<line x1="84.96" y1="580.50" x2="84.96" y2="591.50" stroke="#e8922e" stroke-width="2.0"/>
<line x1="81.96" y1="580.50" x2="87.96" y2="580.50" stroke="#e8922e" stroke-width="2.0"/>
<line x1="81.96" y1="591.50" x2="87.96" y2="591.50" stroke="#e8922e" stroke-width="2.0"/>
<line x1="95.19" y1="572.50" x2="95.19" y2="587.50" stroke="#e8922e" stroke-width="2.0"/>
<line x1="92.19" y1="572.50" x2="98.19" y2="572.50" stroke="#e8922e" stroke-width="2.0"/>
<line x1="92.19" y1="587.50" x2="98.19" y2="587.50" stroke="#e8922e" stroke-width="2.0"/>
<line x1="108.83" y1="569.00" x2="108.83" y2="587.00" stroke="#e8922e" stroke-width="2.0"/>
<line x1="105.83" y1="569.00" x2="111.83" y2="569.00" stroke="#e8922e" stroke-width="2.0"/>
<line x1="105.83" y1="587.00" x2="111.83" y2="587.00" stroke="#e8922e" stroke-width="2.0"/>
<line x1="119.06" y1="557.30" x2="119.06" y2="574.70" stroke="#e8922e" stroke-width="2.0"/>
<line x1="116.06" y1="557.30" x2="122.06" y2="557.30" stroke="#e8922e" stroke-width="2.0"/>
<line x1="116.06" y1="574.70" x2="122.06" y2="574.70" stroke="#e8922e" stroke-width="2.0"/>
<line x1="132.70" y1="547.90" x2="132.70" y2="572.50" stroke="#e8922e" stroke-width="2.0"/>
<line x1="129.70" y1="547.90" x2="135.70" y2="547.90" stroke="#e8922e" stroke-width="2.0"/>
<line x1="129.70" y1="572.50" x2="135.70" y2="572.50" stroke="#e8922e" stroke-width="2.0"/>
<line x1="142.93" y1="540.70" x2="142.93" y2="564.70" stroke="#e8922e" stroke-width="2.0"/>
<line x1="139.93" y1="540.70" x2="145.93" y2="540.70" stroke="#e8922e" stroke-width="2.0"/>
<line x1="139.93" y1="564.70" x2="145.93" y2="564.70" stroke="#e8922e" stroke-width="2.0"/>
<line x1="156.57" y1="529.80" x2="156.57" y2="555.20" stroke="#e8922e" stroke-width="2.0"/>
<line x1="153.57" y1="529.80" x2="159.57" y2="529.80" stroke="#e8922e" stroke-width="2.0"/>
<line x1="153.57" y1="555.20" x2="159.57" y2="555.20" stroke="#e8922e" stroke-width="2.0"/>
<line x1="166.80" y1="512.80" x2="166.80" y2="546.80" stroke="#e8922e" stroke-width="2.0"/>
<line x1="163.80" y1="512.80" x2="169.80" y2="512.80" stroke="#e8922e" stroke-width="2.0"/>
<line x1="163.80" y1="546.80" x2="169.80" y2="546.80" stroke="#e8922e" stroke-width="2.0"/>
<line x1="180.44" y1="506.40" x2="180.44" y2="537.00" stroke="#e8922e" stroke-width="2.0"/>
<line x1="177.44" y1="506.40" x2="183.44" y2="506.40" stroke="#e8922e" stroke-width="2.0"/>
<line x1="177.44" y1="537.00" x2="183.44" y2="537.00" stroke="#e8922e" stroke-width="2.0"/>
<line x1="190.67" y1="492.10" x2="190.67" y2="529.90" stroke="#e8922e" stroke-width="2.0"/>
<line x1="187.67" y1="492.10" x2="193.67" y2="492.10" stroke="#e8922e" stroke-width="2.0"/>
<line x1="187.67" y1="529.90" x2="193.67" y2="529.90" stroke="#e8922e" stroke-width="2.0"/>
<polyline points="64.50,604.20 74.73,595.50 84.96,586.00 95.19,580.00 108.83,578.00 119.06,566.00 132.70,560.20 142.93,552.70 156.57,542.50 166.80,529.80 180.44,521.70 190.67,511.00" fill="none" stroke="#e8922e" stroke-width="1.4" stroke-linejoin="round"/>
<path d="M64.50,606.73 L66.92,602.43 L62.08,602.43Z" fill="#e8922e"/>
<path d="M74.73,598.03 L77.15,593.73 L72.31,593.73Z" fill="#e8922e"/>
<path d="M84.96,588.53 L87.38,584.23 L82.54,584.23Z" fill="#e8922e"/>
<path d="M95.19,582.53 L97.61,578.23 L92.77,578.23Z" fill="#e8922e"/>
<path d="M108.83,580.53 L111.25,576.23 L106.41,576.23Z" fill="#e8922e"/>
<path d="M119.06,568.53 L121.48,564.23 L116.64,564.23Z" fill="#e8922e"/>
<path d="M132.70,562.73 L135.12,558.43 L130.28,558.43Z" fill="#e8922e"/>
<path d="M142.93,555.23 L145.35,550.93 L140.51,550.93Z" fill="#e8922e"/>
<path d="M156.57,545.03 L158.99,540.73 L154.15,540.73Z" fill="#e8922e"/>
<path d="M166.80,532.33 L169.22,528.03 L164.38,528.03Z" fill="#e8922e"/>
<path d="M180.44,524.23 L182.86,519.93 L178.02,519.93Z" fill="#e8922e"/>
<path d="M190.67,513.53 L193.09,509.23 L188.25,509.23Z" fill="#e8922e"/>
<line x1="64.50" y1="586.50" x2="64.50" y2="609.90" stroke="#1414d2" stroke-width="2.0"/>
<line x1="61.40" y1="586.50" x2="67.60" y2="586.50" stroke="#1414d2" stroke-width="2.0"/>
<line x1="61.40" y1="609.90" x2="67.60" y2="609.90" stroke="#1414d2" stroke-width="2.0"/>
<line x1="74.73" y1="580.00" x2="74.73" y2="607.60" stroke="#1414d2" stroke-width="2.0"/>
<line x1="71.63" y1="580.00" x2="77.83" y2="580.00" stroke="#1414d2" stroke-width="2.0"/>
<line x1="71.63" y1="607.60" x2="77.83" y2="607.60" stroke="#1414d2" stroke-width="2.0"/>
<line x1="84.96" y1="576.80" x2="84.96" y2="605.20" stroke="#1414d2" stroke-width="2.0"/>
<line x1="81.86" y1="576.80" x2="88.06" y2="576.80" stroke="#1414d2" stroke-width="2.0"/>
<line x1="81.86" y1="605.20" x2="88.06" y2="605.20" stroke="#1414d2" stroke-width="2.0"/>
<line x1="95.19" y1="574.10" x2="95.19" y2="601.90" stroke="#1414d2" stroke-width="2.0"/>
<line x1="92.09" y1="574.10" x2="98.29" y2="574.10" stroke="#1414d2" stroke-width="2.0"/>
<line x1="92.09" y1="601.90" x2="98.29" y2="601.90" stroke="#1414d2" stroke-width="2.0"/>
<line x1="108.83" y1="571.00" x2="108.83" y2="599.60" stroke="#1414d2" stroke-width="2.0"/>
<line x1="105.73" y1="571.00" x2="111.93" y2="571.00" stroke="#1414d2" stroke-width="2.0"/>
<line x1="105.73" y1="599.60" x2="111.93" y2="599.60" stroke="#1414d2" stroke-width="2.0"/>
<line x1="119.06" y1="564.00" x2="119.06" y2="591.00" stroke="#1414d2" stroke-width="2.0"/>
<line x1="115.96" y1="564.00" x2="122.16" y2="564.00" stroke="#1414d2" stroke-width="2.0"/>
<line x1="115.96" y1="591.00" x2="122.16" y2="591.00" stroke="#1414d2" stroke-width="2.0"/>
<line x1="132.70" y1="561.00" x2="132.70" y2="588.60" stroke="#1414d2" stroke-width="2.0"/>
<line x1="129.60" y1="561.00" x2="135.80" y2="561.00" stroke="#1414d2" stroke-width="2.0"/>
<line x1="129.60" y1="588.60" x2="135.80" y2="588.60" stroke="#1414d2" stroke-width="2.0"/>
<line x1="142.93" y1="553.50" x2="142.93" y2="581.50" stroke="#1414d2" stroke-width="2.0"/>
<line x1="139.83" y1="553.50" x2="146.03" y2="553.50" stroke="#1414d2" stroke-width="2.0"/>
<line x1="139.83" y1="581.50" x2="146.03" y2="581.50" stroke="#1414d2" stroke-width="2.0"/>
<line x1="156.57" y1="549.50" x2="156.57" y2="578.50" stroke="#1414d2" stroke-width="2.0"/>
<line x1="153.47" y1="549.50" x2="159.67" y2="549.50" stroke="#1414d2" stroke-width="2.0"/>
<line x1="153.47" y1="578.50" x2="159.67" y2="578.50" stroke="#1414d2" stroke-width="2.0"/>
<line x1="166.80" y1="543.60" x2="166.80" y2="573.60" stroke="#1414d2" stroke-width="2.0"/>
<line x1="163.70" y1="543.60" x2="169.90" y2="543.60" stroke="#1414d2" stroke-width="2.0"/>
<line x1="163.70" y1="573.60" x2="169.90" y2="573.60" stroke="#1414d2" stroke-width="2.0"/>
<line x1="180.44" y1="531.70" x2="180.44" y2="565.70" stroke="#1414d2" stroke-width="2.0"/>
<line x1="177.34" y1="531.70" x2="183.54" y2="531.70" stroke="#1414d2" stroke-width="2.0"/>
<line x1="177.34" y1="565.70" x2="183.54" y2="565.70" stroke="#1414d2" stroke-width="2.0"/>
<line x1="190.67" y1="519.00" x2="190.67" y2="553.00" stroke="#1414d2" stroke-width="2.0"/>
<line x1="187.57" y1="519.00" x2="193.77" y2="519.00" stroke="#1414d2" stroke-width="2.0"/>
<line x1="187.57" y1="553.00" x2="193.77" y2="553.00" stroke="#1414d2" stroke-width="2.0"/>
<polyline points="64.50,598.20 74.73,593.80 84.96,591.00 95.19,588.00 108.83,585.30 119.06,577.50 132.70,574.80 142.93,567.50 156.57,564.00 166.80,558.60 180.44,548.70 190.67,536.00" fill="none" stroke="#1414d2" stroke-width="1.7" stroke-linejoin="round"/>
<rect x="62.30" y="596.00" width="4.40" height="4.40" fill="#1414d2"/>
<rect x="72.53" y="591.60" width="4.40" height="4.40" fill="#1414d2"/>
<rect x="82.76" y="588.80" width="4.40" height="4.40" fill="#1414d2"/>
<rect x="92.99" y="585.80" width="4.40" height="4.40" fill="#1414d2"/>
<rect x="106.63" y="583.10" width="4.40" height="4.40" fill="#1414d2"/>
<rect x="116.86" y="575.30" width="4.40" height="4.40" fill="#1414d2"/>
<rect x="130.50" y="572.60" width="4.40" height="4.40" fill="#1414d2"/>
<rect x="140.73" y="565.30" width="4.40" height="4.40" fill="#1414d2"/>
<rect x="154.37" y="561.80" width="4.40" height="4.40" fill="#1414d2"/>
<rect x="164.60" y="556.40" width="4.40" height="4.40" fill="#1414d2"/>
<rect x="178.24" y="546.50" width="4.40" height="4.40" fill="#1414d2"/>
<rect x="188.47" y="533.80" width="4.40" height="4.40" fill="#1414d2"/>
<line x1="64.50" y1="603.50" x2="64.50" y2="611.50" stroke="#e01c24" stroke-width="2.0"/>
<line x1="61.40" y1="603.50" x2="67.60" y2="603.50" stroke="#e01c24" stroke-width="2.0"/>
<line x1="61.40" y1="611.50" x2="67.60" y2="611.50" stroke="#e01c24" stroke-width="2.0"/>
<line x1="74.73" y1="594.80" x2="74.73" y2="602.80" stroke="#e01c24" stroke-width="2.0"/>
<line x1="71.63" y1="594.80" x2="77.83" y2="594.80" stroke="#e01c24" stroke-width="2.0"/>
<line x1="71.63" y1="602.80" x2="77.83" y2="602.80" stroke="#e01c24" stroke-width="2.0"/>
<line x1="84.96" y1="599.70" x2="84.96" y2="603.70" stroke="#e01c24" stroke-width="2.0"/>
<line x1="81.86" y1="599.70" x2="88.06" y2="599.70" stroke="#e01c24" stroke-width="2.0"/>
<line x1="81.86" y1="603.70" x2="88.06" y2="603.70" stroke="#e01c24" stroke-width="2.0"/>
<line x1="95.19" y1="606.80" x2="95.19" y2="608.80" stroke="#e01c24" stroke-width="2.0"/>
<line x1="92.09" y1="606.80" x2="98.29" y2="606.80" stroke="#e01c24" stroke-width="2.0"/>
<line x1="92.09" y1="608.80" x2="98.29" y2="608.80" stroke="#e01c24" stroke-width="2.0"/>
<line x1="108.83" y1="620.20" x2="108.83" y2="626.60" stroke="#e01c24" stroke-width="2.0"/>
<line x1="105.73" y1="620.20" x2="111.93" y2="620.20" stroke="#e01c24" stroke-width="2.0"/>
<line x1="105.73" y1="626.60" x2="111.93" y2="626.60" stroke="#e01c24" stroke-width="2.0"/>
<line x1="119.06" y1="627.30" x2="119.06" y2="631.70" stroke="#e01c24" stroke-width="2.0"/>
<line x1="115.96" y1="627.30" x2="122.16" y2="627.30" stroke="#e01c24" stroke-width="2.0"/>
<line x1="115.96" y1="631.70" x2="122.16" y2="631.70" stroke="#e01c24" stroke-width="2.0"/>
<line x1="132.70" y1="632.30" x2="132.70" y2="634.30" stroke="#e01c24" stroke-width="2.0"/>
<line x1="129.60" y1="632.30" x2="135.80" y2="632.30" stroke="#e01c24" stroke-width="2.0"/>
<line x1="129.60" y1="634.30" x2="135.80" y2="634.30" stroke="#e01c24" stroke-width="2.0"/>
<polyline points="64.50,607.50 74.73,598.80 84.96,601.70 95.19,607.80 108.83,623.40 119.06,629.50 132.70,633.30 142.93,634.60 156.57,635.80 166.80,636.50 180.44,637.60 190.67,637.60 207.72,638.10 224.77,636.50" fill="none" stroke="#e01c24" stroke-width="1.4" stroke-linejoin="round"/>
<circle cx="64.50" cy="607.50" r="2.60" fill="#e01c24"/>
<circle cx="74.73" cy="598.80" r="2.60" fill="#e01c24"/>
<circle cx="84.96" cy="601.70" r="2.60" fill="#e01c24"/>
<circle cx="95.19" cy="607.80" r="2.60" fill="#e01c24"/>
<circle cx="108.83" cy="623.40" r="2.60" fill="#e01c24"/>
<circle cx="119.06" cy="629.50" r="2.60" fill="#e01c24"/>
<circle cx="132.70" cy="633.30" r="2.60" fill="#e01c24"/>
<circle cx="142.93" cy="634.60" r="2.60" fill="#e01c24"/>
<circle cx="156.57" cy="635.80" r="2.60" fill="#e01c24"/>
<circle cx="166.80" cy="636.50" r="2.60" fill="#e01c24"/>
<circle cx="180.44" cy="637.60" r="2.60" fill="#e01c24"/>
<circle cx="190.67" cy="637.60" r="2.60" fill="#e01c24"/>
<circle cx="207.72" cy="638.10" r="2.60" fill="#e01c24"/>
<circle cx="224.77" cy="636.50" r="2.60" fill="#e01c24"/>
<path d="M61.10,627.30 L67.50,627.30 L64.30,635.40Z" fill="#000"/>
<path d="M73.90,627.30 L80.30,627.30 L77.10,635.40Z" fill="#000"/>
<path d="M86.70,627.30 L93.10,627.30 L89.90,635.40Z" fill="#000"/>
<path d="M99.30,627.30 L105.70,627.30 L102.50,635.40Z" fill="#000"/>
<line x1="76.50" y1="435.40" x2="93.10" y2="435.40" stroke="#dc2020" stroke-width="1.5"/>
<circle cx="84.80" cy="435.40" r="2.40" fill="#dc2020"/>
<text x="98.8" y="441.2" font-size="12.6" text-anchor="start" fill="#111" textLength="88.5" lengthAdjust="spacingAndGlyphs" stroke="#111" stroke-width="0.22">M25ADCMMAE</text>
<line x1="76.50" y1="452.70" x2="93.10" y2="452.70" stroke="#e8922e" stroke-width="1.5"/>
<path d="M84.80,455.23 L87.22,450.93 L82.38,450.93Z" fill="#e8922e"/>
<text x="98.8" y="458.5" font-size="12.6" text-anchor="start" fill="#111" textLength="82.2" lengthAdjust="spacingAndGlyphs" stroke="#111" stroke-width="0.22">CtrlADCMMAE</text>
<line x1="76.50" y1="469.60" x2="93.10" y2="469.60" stroke="#1414d2" stroke-width="1.5"/>
<rect x="82.00" y="466.80" width="5.60" height="5.60" fill="#1414d2"/>
<text x="98.8" y="475.40000000000003" font-size="12.6" text-anchor="start" fill="#111" textLength="21.5" lengthAdjust="spacingAndGlyphs" stroke="#111" stroke-width="0.22">PBS</text>
<text x="284.5" y="420.7" font-size="17.8" font-weight="bold" text-anchor="start" fill="#000">E</text>
<line x1="340.80" y1="467.15" x2="340.80" y2="639.95" stroke="#000" stroke-width="1.5"/>
<line x1="335.30" y1="639.20" x2="340.80" y2="639.20" stroke="#000" stroke-width="1.5"/>
<text x="332.90000000000003" y="642.7" font-size="9.3" font-weight="bold" text-anchor="end" fill="#000">0</text>
<line x1="335.30" y1="582.10" x2="340.80" y2="582.10" stroke="#000" stroke-width="1.5"/>
<text x="332.90000000000003" y="585.6" font-size="9.3" font-weight="bold" text-anchor="end" fill="#000">500</text>
<line x1="335.30" y1="525.00" x2="340.80" y2="525.00" stroke="#000" stroke-width="1.5"/>
<text x="332.90000000000003" y="528.5" font-size="9.3" font-weight="bold" text-anchor="end" fill="#000">1,000</text>
<line x1="335.30" y1="467.90" x2="340.80" y2="467.90" stroke="#000" stroke-width="1.5"/>
<text x="332.90000000000003" y="471.4000000000001" font-size="9.3" font-weight="bold" text-anchor="end" fill="#000">1,500</text>
<line x1="335.30" y1="639.20" x2="512.05" y2="639.20" stroke="#000" stroke-width="1.5"/>
<line x1="340.80" y1="639.20" x2="340.80" y2="643.10" stroke="#000" stroke-width="1.5"/>
<text x="340.8" y="652.8" font-size="9.3" font-weight="bold" text-anchor="middle" fill="#000">0</text>
<line x1="374.90" y1="639.20" x2="374.90" y2="643.10" stroke="#000" stroke-width="1.5"/>
<text x="374.90000000000003" y="652.8" font-size="9.3" font-weight="bold" text-anchor="middle" fill="#000">10</text>
<line x1="409.00" y1="639.20" x2="409.00" y2="643.10" stroke="#000" stroke-width="1.5"/>
<text x="409.0" y="652.8" font-size="9.3" font-weight="bold" text-anchor="middle" fill="#000">20</text>
<line x1="443.10" y1="639.20" x2="443.10" y2="643.10" stroke="#000" stroke-width="1.5"/>
<text x="443.1" y="652.8" font-size="9.3" font-weight="bold" text-anchor="middle" fill="#000">30</text>
<line x1="477.20" y1="639.20" x2="477.20" y2="643.10" stroke="#000" stroke-width="1.5"/>
<text x="477.20000000000005" y="652.8" font-size="9.3" font-weight="bold" text-anchor="middle" fill="#000">40</text>
<line x1="511.30" y1="639.20" x2="511.30" y2="643.10" stroke="#000" stroke-width="1.5"/>
<text x="511.3" y="652.8" font-size="9.3" font-weight="bold" text-anchor="middle" fill="#000">50</text>
<text transform="translate(300,563.3) rotate(-90)" x="0" y="0" font-size="12.6" text-anchor="middle" fill="#111" stroke="#111" stroke-width="0.22" textLength="101" lengthAdjust="spacingAndGlyphs">Tumor size (mm<tspan font-size="8.9" dy="-3.4">3</tspan><tspan dy="3.4">)</tspan></text>
<text x="429" y="667.4" font-size="12.7" text-anchor="middle" fill="#111" textLength="56.5" lengthAdjust="spacingAndGlyphs" stroke="#111" stroke-width="0.22">Study day</text>
<line x1="340.80" y1="607.00" x2="340.80" y2="611.00" stroke="#ee8c2c" stroke-width="2.0"/>
<line x1="337.30" y1="607.00" x2="344.30" y2="607.00" stroke="#ee8c2c" stroke-width="2.0"/>
<line x1="337.30" y1="611.00" x2="344.30" y2="611.00" stroke="#ee8c2c" stroke-width="2.0"/>
<line x1="354.44" y1="599.60" x2="354.44" y2="605.60" stroke="#ee8c2c" stroke-width="2.0"/>
<line x1="350.94" y1="599.60" x2="357.94" y2="599.60" stroke="#ee8c2c" stroke-width="2.0"/>
<line x1="350.94" y1="605.60" x2="357.94" y2="605.60" stroke="#ee8c2c" stroke-width="2.0"/>
<line x1="364.67" y1="594.30" x2="364.67" y2="601.30" stroke="#ee8c2c" stroke-width="2.0"/>
<line x1="361.17" y1="594.30" x2="368.17" y2="594.30" stroke="#ee8c2c" stroke-width="2.0"/>
<line x1="361.17" y1="601.30" x2="368.17" y2="601.30" stroke="#ee8c2c" stroke-width="2.0"/>
<line x1="374.90" y1="587.70" x2="374.90" y2="597.70" stroke="#ee8c2c" stroke-width="2.0"/>
<line x1="371.40" y1="587.70" x2="378.40" y2="587.70" stroke="#ee8c2c" stroke-width="2.0"/>
<line x1="371.40" y1="597.70" x2="378.40" y2="597.70" stroke="#ee8c2c" stroke-width="2.0"/>
<line x1="385.13" y1="577.00" x2="385.13" y2="586.00" stroke="#ee8c2c" stroke-width="2.0"/>
<line x1="381.63" y1="577.00" x2="388.63" y2="577.00" stroke="#ee8c2c" stroke-width="2.0"/>
<line x1="381.63" y1="586.00" x2="388.63" y2="586.00" stroke="#ee8c2c" stroke-width="2.0"/>
<line x1="398.77" y1="575.30" x2="398.77" y2="583.30" stroke="#ee8c2c" stroke-width="2.0"/>
<line x1="395.27" y1="575.30" x2="402.27" y2="575.30" stroke="#ee8c2c" stroke-width="2.0"/>
<line x1="395.27" y1="583.30" x2="402.27" y2="583.30" stroke="#ee8c2c" stroke-width="2.0"/>
<line x1="409.00" y1="569.30" x2="409.00" y2="578.30" stroke="#ee8c2c" stroke-width="2.0"/>
<line x1="405.50" y1="569.30" x2="412.50" y2="569.30" stroke="#ee8c2c" stroke-width="2.0"/>
<line x1="405.50" y1="578.30" x2="412.50" y2="578.30" stroke="#ee8c2c" stroke-width="2.0"/>
<line x1="422.64" y1="558.50" x2="422.64" y2="571.50" stroke="#ee8c2c" stroke-width="2.0"/>
<line x1="419.14" y1="558.50" x2="426.14" y2="558.50" stroke="#ee8c2c" stroke-width="2.0"/>
<line x1="419.14" y1="571.50" x2="426.14" y2="571.50" stroke="#ee8c2c" stroke-width="2.0"/>
<line x1="432.87" y1="547.30" x2="432.87" y2="560.30" stroke="#ee8c2c" stroke-width="2.0"/>
<line x1="429.37" y1="547.30" x2="436.37" y2="547.30" stroke="#ee8c2c" stroke-width="2.0"/>
<line x1="429.37" y1="560.30" x2="436.37" y2="560.30" stroke="#ee8c2c" stroke-width="2.0"/>
<line x1="446.51" y1="534.30" x2="446.51" y2="547.30" stroke="#ee8c2c" stroke-width="2.0"/>
<line x1="443.01" y1="534.30" x2="450.01" y2="534.30" stroke="#ee8c2c" stroke-width="2.0"/>
<line x1="443.01" y1="547.30" x2="450.01" y2="547.30" stroke="#ee8c2c" stroke-width="2.0"/>
<line x1="456.74" y1="525.30" x2="456.74" y2="537.30" stroke="#ee8c2c" stroke-width="2.0"/>
<line x1="453.24" y1="525.30" x2="460.24" y2="525.30" stroke="#ee8c2c" stroke-width="2.0"/>
<line x1="453.24" y1="537.30" x2="460.24" y2="537.30" stroke="#ee8c2c" stroke-width="2.0"/>
<line x1="470.38" y1="512.50" x2="470.38" y2="522.50" stroke="#ee8c2c" stroke-width="2.0"/>
<line x1="466.88" y1="512.50" x2="473.88" y2="512.50" stroke="#ee8c2c" stroke-width="2.0"/>
<line x1="466.88" y1="522.50" x2="473.88" y2="522.50" stroke="#ee8c2c" stroke-width="2.0"/>
<line x1="480.61" y1="498.00" x2="480.61" y2="512.00" stroke="#ee8c2c" stroke-width="2.0"/>
<line x1="477.11" y1="498.00" x2="484.11" y2="498.00" stroke="#ee8c2c" stroke-width="2.0"/>
<line x1="477.11" y1="512.00" x2="484.11" y2="512.00" stroke="#ee8c2c" stroke-width="2.0"/>
<line x1="494.25" y1="479.50" x2="494.25" y2="494.50" stroke="#ee8c2c" stroke-width="2.0"/>
<line x1="490.75" y1="479.50" x2="497.75" y2="479.50" stroke="#ee8c2c" stroke-width="2.0"/>
<line x1="490.75" y1="494.50" x2="497.75" y2="494.50" stroke="#ee8c2c" stroke-width="2.0"/>
<polyline points="340.80,609.00 354.44,602.60 364.67,597.80 374.90,592.70 385.13,581.50 398.77,579.30 409.00,573.80 422.64,565.00 432.87,553.80 446.51,540.80 456.74,531.30 470.38,517.50 480.61,505.00 494.25,487.00" fill="none" stroke="#ee8c2c" stroke-width="1.2" stroke-linejoin="round"/>
<circle cx="340.80" cy="609.00" r="2.30" fill="#ee8c2c"/>
<circle cx="354.44" cy="602.60" r="2.30" fill="#ee8c2c"/>
<circle cx="364.67" cy="597.80" r="2.30" fill="#ee8c2c"/>
<circle cx="374.90" cy="592.70" r="2.30" fill="#ee8c2c"/>
<circle cx="385.13" cy="581.50" r="2.30" fill="#ee8c2c"/>
<circle cx="398.77" cy="579.30" r="2.30" fill="#ee8c2c"/>
<circle cx="409.00" cy="573.80" r="2.30" fill="#ee8c2c"/>
<circle cx="422.64" cy="565.00" r="2.30" fill="#ee8c2c"/>
<circle cx="432.87" cy="553.80" r="2.30" fill="#ee8c2c"/>
<circle cx="446.51" cy="540.80" r="2.30" fill="#ee8c2c"/>
<circle cx="456.74" cy="531.30" r="2.30" fill="#ee8c2c"/>
<circle cx="470.38" cy="517.50" r="2.30" fill="#ee8c2c"/>
<circle cx="480.61" cy="505.00" r="2.30" fill="#ee8c2c"/>
<circle cx="494.25" cy="487.00" r="2.30" fill="#ee8c2c"/>
<line x1="340.80" y1="607.00" x2="340.80" y2="611.00" stroke="#1c6e1c" stroke-width="2.2"/>
<line x1="337.10" y1="607.00" x2="344.50" y2="607.00" stroke="#1c6e1c" stroke-width="2.2"/>
<line x1="337.10" y1="611.00" x2="344.50" y2="611.00" stroke="#1c6e1c" stroke-width="2.2"/>
<line x1="354.44" y1="602.00" x2="354.44" y2="606.00" stroke="#1c6e1c" stroke-width="2.2"/>
<line x1="350.74" y1="602.00" x2="358.14" y2="602.00" stroke="#1c6e1c" stroke-width="2.2"/>
<line x1="350.74" y1="606.00" x2="358.14" y2="606.00" stroke="#1c6e1c" stroke-width="2.2"/>
<line x1="364.67" y1="598.50" x2="364.67" y2="602.50" stroke="#1c6e1c" stroke-width="2.2"/>
<line x1="360.97" y1="598.50" x2="368.37" y2="598.50" stroke="#1c6e1c" stroke-width="2.2"/>
<line x1="360.97" y1="602.50" x2="368.37" y2="602.50" stroke="#1c6e1c" stroke-width="2.2"/>
<line x1="374.90" y1="598.00" x2="374.90" y2="602.00" stroke="#1c6e1c" stroke-width="2.2"/>
<line x1="371.20" y1="598.00" x2="378.60" y2="598.00" stroke="#1c6e1c" stroke-width="2.2"/>
<line x1="371.20" y1="602.00" x2="378.60" y2="602.00" stroke="#1c6e1c" stroke-width="2.2"/>
<line x1="385.13" y1="589.80" x2="385.13" y2="599.80" stroke="#1c6e1c" stroke-width="2.2"/>
<line x1="381.43" y1="589.80" x2="388.83" y2="589.80" stroke="#1c6e1c" stroke-width="2.2"/>
<line x1="381.43" y1="599.80" x2="388.83" y2="599.80" stroke="#1c6e1c" stroke-width="2.2"/>
<line x1="398.77" y1="595.30" x2="398.77" y2="602.30" stroke="#1c6e1c" stroke-width="2.2"/>
<line x1="395.07" y1="595.30" x2="402.47" y2="595.30" stroke="#1c6e1c" stroke-width="2.2"/>
<line x1="395.07" y1="602.30" x2="402.47" y2="602.30" stroke="#1c6e1c" stroke-width="2.2"/>
<line x1="409.00" y1="598.50" x2="409.00" y2="600.50" stroke="#1c6e1c" stroke-width="2.2"/>
<line x1="405.30" y1="598.50" x2="412.70" y2="598.50" stroke="#1c6e1c" stroke-width="2.2"/>
<line x1="405.30" y1="600.50" x2="412.70" y2="600.50" stroke="#1c6e1c" stroke-width="2.2"/>
<line x1="422.64" y1="593.50" x2="422.64" y2="601.50" stroke="#1c6e1c" stroke-width="2.2"/>
<line x1="418.94" y1="593.50" x2="426.34" y2="593.50" stroke="#1c6e1c" stroke-width="2.2"/>
<line x1="418.94" y1="601.50" x2="426.34" y2="601.50" stroke="#1c6e1c" stroke-width="2.2"/>
<line x1="432.87" y1="587.50" x2="432.87" y2="596.50" stroke="#1c6e1c" stroke-width="2.2"/>
<line x1="429.17" y1="587.50" x2="436.57" y2="587.50" stroke="#1c6e1c" stroke-width="2.2"/>
<line x1="429.17" y1="596.50" x2="436.57" y2="596.50" stroke="#1c6e1c" stroke-width="2.2"/>
<line x1="446.51" y1="581.00" x2="446.51" y2="594.00" stroke="#1c6e1c" stroke-width="2.2"/>
<line x1="442.81" y1="581.00" x2="450.21" y2="581.00" stroke="#1c6e1c" stroke-width="2.2"/>
<line x1="442.81" y1="594.00" x2="450.21" y2="594.00" stroke="#1c6e1c" stroke-width="2.2"/>
<line x1="456.74" y1="579.50" x2="456.74" y2="591.50" stroke="#1c6e1c" stroke-width="2.2"/>
<line x1="453.04" y1="579.50" x2="460.44" y2="579.50" stroke="#1c6e1c" stroke-width="2.2"/>
<line x1="453.04" y1="591.50" x2="460.44" y2="591.50" stroke="#1c6e1c" stroke-width="2.2"/>
<line x1="470.38" y1="570.80" x2="470.38" y2="581.80" stroke="#1c6e1c" stroke-width="2.2"/>
<line x1="466.68" y1="570.80" x2="474.08" y2="570.80" stroke="#1c6e1c" stroke-width="2.2"/>
<line x1="466.68" y1="581.80" x2="474.08" y2="581.80" stroke="#1c6e1c" stroke-width="2.2"/>
<line x1="480.61" y1="560.50" x2="480.61" y2="569.50" stroke="#1c6e1c" stroke-width="2.2"/>
<line x1="476.91" y1="560.50" x2="484.31" y2="560.50" stroke="#1c6e1c" stroke-width="2.2"/>
<line x1="476.91" y1="569.50" x2="484.31" y2="569.50" stroke="#1c6e1c" stroke-width="2.2"/>
<line x1="494.25" y1="547.50" x2="494.25" y2="558.50" stroke="#1c6e1c" stroke-width="2.2"/>
<line x1="490.55" y1="547.50" x2="497.95" y2="547.50" stroke="#1c6e1c" stroke-width="2.2"/>
<line x1="490.55" y1="558.50" x2="497.95" y2="558.50" stroke="#1c6e1c" stroke-width="2.2"/>
<polyline points="340.80,609.00 354.44,604.00 364.67,600.50 374.90,600.00 385.13,594.80 398.77,598.80 409.00,599.50 422.64,597.50 432.87,592.00 446.51,587.50 456.74,585.50 470.38,576.30 480.61,565.00 494.25,553.00" fill="none" stroke="#1c6e1c" stroke-width="1.3" stroke-linejoin="round"/>
<path d="M340.80,605.55 L344.10,611.41 L337.50,611.41Z" fill="#1c6e1c"/>
<path d="M354.44,600.55 L357.74,606.41 L351.14,606.41Z" fill="#1c6e1c"/>
<path d="M364.67,597.05 L367.97,602.91 L361.37,602.91Z" fill="#1c6e1c"/>
<path d="M374.90,596.55 L378.20,602.41 L371.60,602.41Z" fill="#1c6e1c"/>
<path d="M385.13,591.35 L388.43,597.21 L381.83,597.21Z" fill="#1c6e1c"/>
<path d="M398.77,595.35 L402.07,601.21 L395.47,601.21Z" fill="#1c6e1c"/>
<path d="M409.00,596.05 L412.30,601.91 L405.70,601.91Z" fill="#1c6e1c"/>
<path d="M422.64,594.05 L425.94,599.91 L419.34,599.91Z" fill="#1c6e1c"/>
<path d="M432.87,588.55 L436.17,594.41 L429.57,594.41Z" fill="#1c6e1c"/>
<path d="M446.51,584.05 L449.81,589.91 L443.21,589.91Z" fill="#1c6e1c"/>
<path d="M456.74,582.05 L460.04,587.91 L453.44,587.91Z" fill="#1c6e1c"/>
<path d="M470.38,572.85 L473.68,578.71 L467.08,578.71Z" fill="#1c6e1c"/>
<path d="M480.61,561.55 L483.91,567.41 L477.31,567.41Z" fill="#1c6e1c"/>
<path d="M494.25,549.55 L497.55,555.41 L490.95,555.41Z" fill="#1c6e1c"/>
<line x1="385.13" y1="616.00" x2="385.13" y2="619.00" stroke="#e81c24" stroke-width="1.8"/>
<line x1="381.93" y1="616.00" x2="388.33" y2="616.00" stroke="#e81c24" stroke-width="1.8"/>
<line x1="381.93" y1="619.00" x2="388.33" y2="619.00" stroke="#e81c24" stroke-width="1.8"/>
<line x1="398.77" y1="620.00" x2="398.77" y2="624.00" stroke="#e81c24" stroke-width="1.8"/>
<line x1="395.57" y1="620.00" x2="401.97" y2="620.00" stroke="#e81c24" stroke-width="1.8"/>
<line x1="395.57" y1="624.00" x2="401.97" y2="624.00" stroke="#e81c24" stroke-width="1.8"/>
<line x1="409.00" y1="626.00" x2="409.00" y2="629.00" stroke="#e81c24" stroke-width="1.8"/>
<line x1="405.80" y1="626.00" x2="412.20" y2="626.00" stroke="#e81c24" stroke-width="1.8"/>
<line x1="405.80" y1="629.00" x2="412.20" y2="629.00" stroke="#e81c24" stroke-width="1.8"/>
<polyline points="340.80,609.60 354.44,608.10 364.67,605.80 374.90,611.50 385.13,617.50 398.77,622.00 409.00,627.50 422.64,631.30 432.87,633.00 446.51,633.80 456.74,634.50 470.38,635.50 480.61,636.30 494.25,636.30" fill="none" stroke="#e81c24" stroke-width="1.6" stroke-linejoin="round"/>
<path d="M340.80,612.94 L343.99,607.27 L337.61,607.27Z" fill="#e81c24"/>
<path d="M354.44,611.44 L357.63,605.77 L351.25,605.77Z" fill="#e81c24"/>
<path d="M364.67,609.13 L367.86,603.47 L361.48,603.47Z" fill="#e81c24"/>
<path d="M374.90,614.84 L378.09,609.17 L371.71,609.17Z" fill="#e81c24"/>
<path d="M385.13,620.84 L388.32,615.17 L381.94,615.17Z" fill="#e81c24"/>
<path d="M398.77,625.34 L401.96,619.67 L395.58,619.67Z" fill="#e81c24"/>
<path d="M409.00,630.84 L412.19,625.17 L405.81,625.17Z" fill="#e81c24"/>
<path d="M422.64,634.63 L425.83,628.97 L419.45,628.97Z" fill="#e81c24"/>
<path d="M432.87,636.34 L436.06,630.67 L429.68,630.67Z" fill="#e81c24"/>
<path d="M446.51,637.13 L449.70,631.47 L443.32,631.47Z" fill="#e81c24"/>
<path d="M456.74,637.84 L459.93,632.17 L453.55,632.17Z" fill="#e81c24"/>
<path d="M470.38,638.84 L473.57,633.17 L467.19,633.17Z" fill="#e81c24"/>
<path d="M480.61,639.63 L483.80,633.97 L477.42,633.97Z" fill="#e81c24"/>
<path d="M494.25,639.63 L497.44,633.97 L491.06,633.97Z" fill="#e81c24"/>
<line x1="340.80" y1="606.40" x2="340.80" y2="612.80" stroke="#1414d8" stroke-width="1.9"/>
<line x1="337.50" y1="606.40" x2="344.10" y2="606.40" stroke="#1414d8" stroke-width="1.9"/>
<line x1="337.50" y1="612.80" x2="344.10" y2="612.80" stroke="#1414d8" stroke-width="1.9"/>
<line x1="354.44" y1="605.60" x2="354.44" y2="610.60" stroke="#1414d8" stroke-width="1.9"/>
<line x1="351.14" y1="605.60" x2="357.74" y2="605.60" stroke="#1414d8" stroke-width="1.9"/>
<line x1="351.14" y1="610.60" x2="357.74" y2="610.60" stroke="#1414d8" stroke-width="1.9"/>
<line x1="364.67" y1="602.80" x2="364.67" y2="608.80" stroke="#1414d8" stroke-width="1.9"/>
<line x1="361.37" y1="602.80" x2="367.97" y2="602.80" stroke="#1414d8" stroke-width="1.9"/>
<line x1="361.37" y1="608.80" x2="367.97" y2="608.80" stroke="#1414d8" stroke-width="1.9"/>
<line x1="374.90" y1="608.10" x2="374.90" y2="617.50" stroke="#1414d8" stroke-width="1.9"/>
<line x1="371.60" y1="608.10" x2="378.20" y2="608.10" stroke="#1414d8" stroke-width="1.9"/>
<line x1="371.60" y1="617.50" x2="378.20" y2="617.50" stroke="#1414d8" stroke-width="1.9"/>
<line x1="385.13" y1="617.50" x2="385.13" y2="621.50" stroke="#1414d8" stroke-width="1.9"/>
<line x1="381.83" y1="617.50" x2="388.43" y2="617.50" stroke="#1414d8" stroke-width="1.9"/>
<line x1="381.83" y1="621.50" x2="388.43" y2="621.50" stroke="#1414d8" stroke-width="1.9"/>
<line x1="398.77" y1="625.50" x2="398.77" y2="628.50" stroke="#1414d8" stroke-width="1.9"/>
<line x1="395.47" y1="625.50" x2="402.07" y2="625.50" stroke="#1414d8" stroke-width="1.9"/>
<line x1="395.47" y1="628.50" x2="402.07" y2="628.50" stroke="#1414d8" stroke-width="1.9"/>
<line x1="409.00" y1="628.50" x2="409.00" y2="630.50" stroke="#1414d8" stroke-width="1.9"/>
<line x1="405.70" y1="628.50" x2="412.30" y2="628.50" stroke="#1414d8" stroke-width="1.9"/>
<line x1="405.70" y1="630.50" x2="412.30" y2="630.50" stroke="#1414d8" stroke-width="1.9"/>
<line x1="422.64" y1="631.00" x2="422.64" y2="633.00" stroke="#1414d8" stroke-width="1.9"/>
<line x1="419.34" y1="631.00" x2="425.94" y2="631.00" stroke="#1414d8" stroke-width="1.9"/>
<line x1="419.34" y1="633.00" x2="425.94" y2="633.00" stroke="#1414d8" stroke-width="1.9"/>
<line x1="432.87" y1="632.00" x2="432.87" y2="634.00" stroke="#1414d8" stroke-width="1.9"/>
<line x1="429.57" y1="632.00" x2="436.17" y2="632.00" stroke="#1414d8" stroke-width="1.9"/>
<line x1="429.57" y1="634.00" x2="436.17" y2="634.00" stroke="#1414d8" stroke-width="1.9"/>
<line x1="446.51" y1="632.00" x2="446.51" y2="634.00" stroke="#1414d8" stroke-width="1.9"/>
<line x1="443.21" y1="632.00" x2="449.81" y2="632.00" stroke="#1414d8" stroke-width="1.9"/>
<line x1="443.21" y1="634.00" x2="449.81" y2="634.00" stroke="#1414d8" stroke-width="1.9"/>
<line x1="456.74" y1="632.00" x2="456.74" y2="634.00" stroke="#1414d8" stroke-width="1.9"/>
<line x1="453.44" y1="632.00" x2="460.04" y2="632.00" stroke="#1414d8" stroke-width="1.9"/>
<line x1="453.44" y1="634.00" x2="460.04" y2="634.00" stroke="#1414d8" stroke-width="1.9"/>
<line x1="470.38" y1="631.00" x2="470.38" y2="633.00" stroke="#1414d8" stroke-width="1.9"/>
<line x1="467.08" y1="631.00" x2="473.68" y2="631.00" stroke="#1414d8" stroke-width="1.9"/>
<line x1="467.08" y1="633.00" x2="473.68" y2="633.00" stroke="#1414d8" stroke-width="1.9"/>
<line x1="480.61" y1="629.00" x2="480.61" y2="631.00" stroke="#1414d8" stroke-width="1.9"/>
<line x1="477.31" y1="629.00" x2="483.91" y2="629.00" stroke="#1414d8" stroke-width="1.9"/>
<line x1="477.31" y1="631.00" x2="483.91" y2="631.00" stroke="#1414d8" stroke-width="1.9"/>
<line x1="494.25" y1="622.80" x2="494.25" y2="624.80" stroke="#1414d8" stroke-width="1.9"/>
<line x1="490.95" y1="622.80" x2="497.55" y2="622.80" stroke="#1414d8" stroke-width="1.9"/>
<line x1="490.95" y1="624.80" x2="497.55" y2="624.80" stroke="#1414d8" stroke-width="1.9"/>
<polyline points="340.80,609.60 354.44,608.10 364.67,605.80 374.90,612.80 385.13,619.50 398.77,627.00 409.00,629.50 422.64,632.00 432.87,633.00 446.51,633.00 456.74,633.00 470.38,632.00 480.61,630.00 494.25,623.80" fill="none" stroke="#1414d8" stroke-width="1.7" stroke-linejoin="round"/>
<rect x="338.40" y="607.20" width="4.80" height="4.80" fill="#1414d8"/>
<rect x="352.04" y="605.70" width="4.80" height="4.80" fill="#1414d8"/>
<rect x="362.27" y="603.40" width="4.80" height="4.80" fill="#1414d8"/>
<rect x="372.50" y="610.40" width="4.80" height="4.80" fill="#1414d8"/>
<rect x="382.73" y="617.10" width="4.80" height="4.80" fill="#1414d8"/>
<rect x="396.37" y="624.60" width="4.80" height="4.80" fill="#1414d8"/>
<rect x="406.60" y="627.10" width="4.80" height="4.80" fill="#1414d8"/>
<rect x="420.24" y="629.60" width="4.80" height="4.80" fill="#1414d8"/>
<rect x="430.47" y="630.60" width="4.80" height="4.80" fill="#1414d8"/>
<rect x="444.11" y="630.60" width="4.80" height="4.80" fill="#1414d8"/>
<rect x="454.34" y="630.60" width="4.80" height="4.80" fill="#1414d8"/>
<rect x="467.98" y="629.60" width="4.80" height="4.80" fill="#1414d8"/>
<rect x="478.21" y="627.60" width="4.80" height="4.80" fill="#1414d8"/>
<rect x="491.85" y="621.40" width="4.80" height="4.80" fill="#1414d8"/>
<path d="M337.60,627.60 L344.00,627.60 L340.80,635.80Z" fill="#000"/>
<path d="M350.50,627.60 L356.90,627.60 L353.70,635.80Z" fill="#000"/>
<path d="M363.30,627.60 L369.70,627.60 L366.50,635.80Z" fill="#000"/>
<path d="M376.00,627.60 L382.40,627.60 L379.20,635.80Z" fill="#000"/>
<line x1="347.80" y1="414.50" x2="363.40" y2="414.50" stroke="#ee8c2c" stroke-width="1.5"/>
<circle cx="355.60" cy="414.50" r="2.20" fill="#ee8c2c"/>
<text x="366" y="422.3" font-size="12.8" text-anchor="start" fill="#111" textLength="135.7" lengthAdjust="spacingAndGlyphs" stroke="#111" stroke-width="0.22">CtrlADCMMAE 3 mg/kg</text>
<line x1="347.80" y1="434.10" x2="363.40" y2="434.10" stroke="#1414d8" stroke-width="1.5"/>
<rect x="352.80" y="431.30" width="5.60" height="5.60" fill="#1414d8"/>
<text x="366" y="441.90000000000003" font-size="12.8" text-anchor="start" fill="#111" textLength="141.9" lengthAdjust="spacingAndGlyphs" stroke="#111" stroke-width="0.22">M25ADCMMAE 3 mg/kg</text>
<line x1="347.80" y1="453.60" x2="363.40" y2="453.60" stroke="#1c6e1c" stroke-width="1.5"/>
<path d="M355.60,449.58 L359.45,456.42 L351.75,456.42Z" fill="#1c6e1c"/>
<text x="366" y="461.40000000000003" font-size="12.8" text-anchor="start" fill="#111" textLength="135.7" lengthAdjust="spacingAndGlyphs" stroke="#111" stroke-width="0.22">CtrlADCMMAE 5 mg/kg</text>
<line x1="347.80" y1="473.20" x2="363.40" y2="473.20" stroke="#e81c24" stroke-width="1.5"/>
<path d="M355.60,477.11 L359.34,470.46 L351.86,470.46Z" fill="#e81c24"/>
<text x="366" y="481.0" font-size="12.8" text-anchor="start" fill="#111" textLength="141.9" lengthAdjust="spacingAndGlyphs" stroke="#111" stroke-width="0.22">M25ADCMMAE 5 mg/kg</text>
</svg></body></html>
